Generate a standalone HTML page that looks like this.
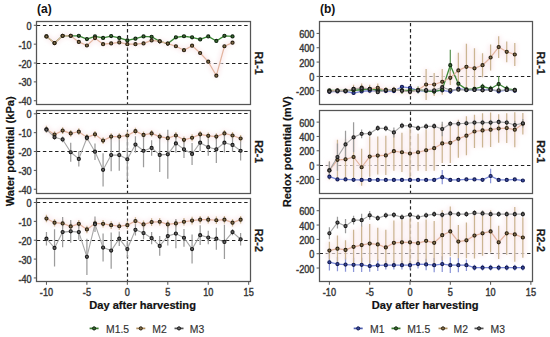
<!DOCTYPE html><html><head><meta charset="utf-8"><style>html,body{margin:0;padding:0;background:#fff;}svg{display:block;}</style></head><body>
<svg width="550" height="337" viewBox="0 0 550 337" font-family='"Liberation Sans", sans-serif'>
<rect width="550" height="337" fill="#ffffff"/>
<defs>
<filter id="blur" x="-20%" y="-20%" width="140%" height="140%"><feGaussianBlur stdDeviation="2.2"/></filter>
<clipPath id="ca0"><rect x="36.8" y="21.6" width="213.5" height="83"/></clipPath>
<clipPath id="cb0"><rect x="319.6" y="21.6" width="212.7" height="83"/></clipPath>
<clipPath id="ca1"><rect x="36.8" y="110.2" width="213.5" height="83"/></clipPath>
<clipPath id="cb1"><rect x="319.6" y="110.2" width="212.7" height="83"/></clipPath>
<clipPath id="ca2"><rect x="36.8" y="198.8" width="213.5" height="83"/></clipPath>
<clipPath id="cb2"><rect x="319.6" y="198.8" width="212.7" height="83"/></clipPath>
</defs>
<text x="37" y="12.8" font-size="12" font-weight="bold" fill="#111">(a)</text>
<text x="320" y="12.8" font-size="12" font-weight="bold" fill="#111">(b)</text>
<line x1="36.8" y1="25.5" x2="250.3" y2="25.5" stroke="#222222" stroke-width="1.2" stroke-dasharray="3.4,2.7"/>
<line x1="36.8" y1="63.5" x2="250.3" y2="63.5" stroke="#222222" stroke-width="1.2" stroke-dasharray="3.4,2.7"/>
<line x1="127.5" y1="21.6" x2="127.5" y2="104.6" stroke="#222222" stroke-width="1.2" stroke-dasharray="3.4,2.7" stroke-dashoffset="-1.3"/>
<g clip-path="url(#ca0)">
<g filter="url(#blur)">
<polyline points="46.45,36.43 54.54,43.03 62.63,35.86 70.72,35.86 78.81,41.9 86.9,45.48 94.99,38.12 103.08,44.16 111.17,43.41 119.26,42.46 127.35,44.16 135.44,44.16 143.53,43.41 151.62,40.39 159.71,41.33 167.8,43.59 175.89,46.23 183.98,50.2 192.07,45.67 200.16,53.02 208.25,61.7 216.34,75.66 224.43,46.23 232.52,42.65" fill="none" stroke="#fbedef" stroke-width="5" stroke-linejoin="round" stroke-linecap="round"/>
</g>
<polyline points="46.45,36.43 54.54,43.03 62.63,35.86 70.72,35.86 78.81,35.86 86.9,39.07 94.99,36.43 103.08,37.94 111.17,36.05 119.26,37.94 127.35,40.39 135.44,38.69 143.53,36.43 151.62,36.8 159.71,41.33 167.8,43.59 175.89,37.37 183.98,36.24 192.07,37.37 200.16,39.45 208.25,36.43 216.34,40.95 224.43,35.86 232.52,36.43" fill="none" stroke="#3f8a38" stroke-width="1.3" stroke-linejoin="round"/>
<polyline points="46.45,36.43 54.54,43.03 62.63,35.86 70.72,35.86 78.81,41.9 86.9,45.48 94.99,38.12 103.08,44.16 111.17,43.41 119.26,42.46 127.35,44.16 135.44,44.16 143.53,43.41 151.62,40.39 159.71,41.33 167.8,43.59 175.89,46.23 183.98,50.2 192.07,45.67 200.16,53.02 208.25,61.7 216.34,75.66 224.43,46.23 232.52,42.65" fill="none" stroke="#e2b49e" stroke-width="1.2" stroke-linejoin="round"/>
<circle cx="46.45" cy="36.43" r="1.55" fill="#3a6e30" stroke="#102410" stroke-width="1.1"/>
<circle cx="54.54" cy="43.03" r="1.55" fill="#3a6e30" stroke="#102410" stroke-width="1.1"/>
<circle cx="62.63" cy="35.86" r="1.55" fill="#3a6e30" stroke="#102410" stroke-width="1.1"/>
<circle cx="70.72" cy="35.86" r="1.55" fill="#3a6e30" stroke="#102410" stroke-width="1.1"/>
<circle cx="78.81" cy="35.86" r="1.55" fill="#3a6e30" stroke="#102410" stroke-width="1.1"/>
<circle cx="86.9" cy="39.07" r="1.55" fill="#3a6e30" stroke="#102410" stroke-width="1.1"/>
<circle cx="94.99" cy="36.43" r="1.55" fill="#3a6e30" stroke="#102410" stroke-width="1.1"/>
<circle cx="103.08" cy="37.94" r="1.55" fill="#3a6e30" stroke="#102410" stroke-width="1.1"/>
<circle cx="111.17" cy="36.05" r="1.55" fill="#3a6e30" stroke="#102410" stroke-width="1.1"/>
<circle cx="119.26" cy="37.94" r="1.55" fill="#3a6e30" stroke="#102410" stroke-width="1.1"/>
<circle cx="127.35" cy="40.39" r="1.55" fill="#3a6e30" stroke="#102410" stroke-width="1.1"/>
<circle cx="135.44" cy="38.69" r="1.55" fill="#3a6e30" stroke="#102410" stroke-width="1.1"/>
<circle cx="143.53" cy="36.43" r="1.55" fill="#3a6e30" stroke="#102410" stroke-width="1.1"/>
<circle cx="151.62" cy="36.8" r="1.55" fill="#3a6e30" stroke="#102410" stroke-width="1.1"/>
<circle cx="159.71" cy="41.33" r="1.55" fill="#3a6e30" stroke="#102410" stroke-width="1.1"/>
<circle cx="167.8" cy="43.59" r="1.55" fill="#3a6e30" stroke="#102410" stroke-width="1.1"/>
<circle cx="175.89" cy="37.37" r="1.55" fill="#3a6e30" stroke="#102410" stroke-width="1.1"/>
<circle cx="183.98" cy="36.24" r="1.55" fill="#3a6e30" stroke="#102410" stroke-width="1.1"/>
<circle cx="192.07" cy="37.37" r="1.55" fill="#3a6e30" stroke="#102410" stroke-width="1.1"/>
<circle cx="200.16" cy="39.45" r="1.55" fill="#3a6e30" stroke="#102410" stroke-width="1.1"/>
<circle cx="208.25" cy="36.43" r="1.55" fill="#3a6e30" stroke="#102410" stroke-width="1.1"/>
<circle cx="216.34" cy="40.95" r="1.55" fill="#3a6e30" stroke="#102410" stroke-width="1.1"/>
<circle cx="224.43" cy="35.86" r="1.55" fill="#3a6e30" stroke="#102410" stroke-width="1.1"/>
<circle cx="232.52" cy="36.43" r="1.55" fill="#3a6e30" stroke="#102410" stroke-width="1.1"/>
<circle cx="46.45" cy="36.43" r="1.55" fill="#85704a" stroke="#2a2012" stroke-width="1.1"/>
<circle cx="54.54" cy="43.03" r="1.55" fill="#85704a" stroke="#2a2012" stroke-width="1.1"/>
<circle cx="62.63" cy="35.86" r="1.55" fill="#85704a" stroke="#2a2012" stroke-width="1.1"/>
<circle cx="70.72" cy="35.86" r="1.55" fill="#85704a" stroke="#2a2012" stroke-width="1.1"/>
<circle cx="78.81" cy="41.9" r="1.55" fill="#85704a" stroke="#2a2012" stroke-width="1.1"/>
<circle cx="86.9" cy="45.48" r="1.55" fill="#85704a" stroke="#2a2012" stroke-width="1.1"/>
<circle cx="94.99" cy="38.12" r="1.55" fill="#85704a" stroke="#2a2012" stroke-width="1.1"/>
<circle cx="103.08" cy="44.16" r="1.55" fill="#85704a" stroke="#2a2012" stroke-width="1.1"/>
<circle cx="111.17" cy="43.41" r="1.55" fill="#85704a" stroke="#2a2012" stroke-width="1.1"/>
<circle cx="119.26" cy="42.46" r="1.55" fill="#85704a" stroke="#2a2012" stroke-width="1.1"/>
<circle cx="127.35" cy="44.16" r="1.55" fill="#85704a" stroke="#2a2012" stroke-width="1.1"/>
<circle cx="135.44" cy="44.16" r="1.55" fill="#85704a" stroke="#2a2012" stroke-width="1.1"/>
<circle cx="143.53" cy="43.41" r="1.55" fill="#85704a" stroke="#2a2012" stroke-width="1.1"/>
<circle cx="151.62" cy="40.39" r="1.55" fill="#85704a" stroke="#2a2012" stroke-width="1.1"/>
<circle cx="159.71" cy="41.33" r="1.55" fill="#85704a" stroke="#2a2012" stroke-width="1.1"/>
<circle cx="167.8" cy="43.59" r="1.55" fill="#85704a" stroke="#2a2012" stroke-width="1.1"/>
<circle cx="175.89" cy="46.23" r="1.55" fill="#85704a" stroke="#2a2012" stroke-width="1.1"/>
<circle cx="183.98" cy="50.2" r="1.55" fill="#85704a" stroke="#2a2012" stroke-width="1.1"/>
<circle cx="192.07" cy="45.67" r="1.55" fill="#85704a" stroke="#2a2012" stroke-width="1.1"/>
<circle cx="200.16" cy="53.02" r="1.55" fill="#85704a" stroke="#2a2012" stroke-width="1.1"/>
<circle cx="208.25" cy="61.7" r="1.55" fill="#85704a" stroke="#2a2012" stroke-width="1.1"/>
<circle cx="216.34" cy="75.66" r="1.55" fill="#85704a" stroke="#2a2012" stroke-width="1.1"/>
<circle cx="224.43" cy="46.23" r="1.55" fill="#85704a" stroke="#2a2012" stroke-width="1.1"/>
<circle cx="232.52" cy="42.65" r="1.55" fill="#85704a" stroke="#2a2012" stroke-width="1.1"/>
</g>
<rect x="36.5" y="21.5" width="214" height="83" fill="none" stroke="#555555" stroke-width="1.25"/>
<line x1="33.8" y1="25.3" x2="36.8" y2="25.3" stroke="#555555" stroke-width="1"/>
<text transform="translate(31.6,29.9) scale(0.88,1)" text-anchor="end" font-size="10.4" fill="#383838" stroke="#383838" stroke-width="0.42">0</text>
<line x1="33.8" y1="44.16" x2="36.8" y2="44.16" stroke="#555555" stroke-width="1"/>
<text transform="translate(31.6,48.76) scale(0.88,1)" text-anchor="end" font-size="10.4" fill="#383838" stroke="#383838" stroke-width="0.42">-10</text>
<line x1="33.8" y1="63.02" x2="36.8" y2="63.02" stroke="#555555" stroke-width="1"/>
<text transform="translate(31.6,67.62) scale(0.88,1)" text-anchor="end" font-size="10.4" fill="#383838" stroke="#383838" stroke-width="0.42">-20</text>
<line x1="33.8" y1="81.88" x2="36.8" y2="81.88" stroke="#555555" stroke-width="1"/>
<text transform="translate(31.6,86.48) scale(0.88,1)" text-anchor="end" font-size="10.4" fill="#383838" stroke="#383838" stroke-width="0.42">-30</text>
<line x1="33.8" y1="100.74" x2="36.8" y2="100.74" stroke="#555555" stroke-width="1"/>
<text transform="translate(31.6,105.34) scale(0.88,1)" text-anchor="end" font-size="10.4" fill="#383838" stroke="#383838" stroke-width="0.42">-40</text>
<text transform="translate(255.1,63.1) rotate(90)" text-anchor="middle" font-size="10.6" font-weight="bold" fill="#1a1a1a" stroke="#1a1a1a" stroke-width="0.25">R1-1</text>
<line x1="36.8" y1="113.5" x2="250.3" y2="113.5" stroke="#222222" stroke-width="1.2" stroke-dasharray="3.4,2.7"/>
<line x1="36.8" y1="151.5" x2="250.3" y2="151.5" stroke="#222222" stroke-width="1.2" stroke-dasharray="3.4,2.7"/>
<line x1="127.5" y1="110.2" x2="127.5" y2="193.2" stroke="#222222" stroke-width="1.2" stroke-dasharray="3.4,2.7" stroke-dashoffset="-1.3"/>
<g clip-path="url(#ca1)">
<g filter="url(#blur)">
<polyline points="46.45,129.27 54.54,134.55 62.63,130.59 70.72,133.41 78.81,131.72 86.9,137.38 94.99,134.36 103.08,140.58 111.17,136.62 119.26,136.62 127.35,135.49 135.44,131.15 143.53,134.92 151.62,133.41 159.71,136.62 167.8,138.13 175.89,135.49 183.98,139.83 192.07,137.75 200.16,134.36 208.25,135.87 216.34,136.62 224.43,133.41 232.52,135.49 240.61,138.51" fill="none" stroke="#fbedef" stroke-width="5" stroke-linejoin="round" stroke-linecap="round"/>
<line x1="46.45" y1="125.87" x2="46.45" y2="132.66" stroke="#fbedef" stroke-width="5" stroke-linecap="butt"/>
<line x1="54.54" y1="131.15" x2="54.54" y2="137.94" stroke="#fbedef" stroke-width="5" stroke-linecap="butt"/>
<line x1="62.63" y1="127.19" x2="62.63" y2="133.98" stroke="#fbedef" stroke-width="5" stroke-linecap="butt"/>
<line x1="70.72" y1="130.02" x2="70.72" y2="136.81" stroke="#fbedef" stroke-width="5" stroke-linecap="butt"/>
<line x1="78.81" y1="128.32" x2="78.81" y2="135.11" stroke="#fbedef" stroke-width="5" stroke-linecap="butt"/>
<line x1="86.9" y1="133.98" x2="86.9" y2="140.77" stroke="#fbedef" stroke-width="5" stroke-linecap="butt"/>
<line x1="94.99" y1="130.96" x2="94.99" y2="137.75" stroke="#fbedef" stroke-width="5" stroke-linecap="butt"/>
<line x1="103.08" y1="137.19" x2="103.08" y2="143.98" stroke="#fbedef" stroke-width="5" stroke-linecap="butt"/>
<line x1="111.17" y1="133.23" x2="111.17" y2="140.02" stroke="#fbedef" stroke-width="5" stroke-linecap="butt"/>
<line x1="119.26" y1="133.23" x2="119.26" y2="140.02" stroke="#fbedef" stroke-width="5" stroke-linecap="butt"/>
<line x1="127.35" y1="132.09" x2="127.35" y2="138.88" stroke="#fbedef" stroke-width="5" stroke-linecap="butt"/>
<line x1="135.44" y1="127.76" x2="135.44" y2="134.55" stroke="#fbedef" stroke-width="5" stroke-linecap="butt"/>
<line x1="143.53" y1="131.53" x2="143.53" y2="138.32" stroke="#fbedef" stroke-width="5" stroke-linecap="butt"/>
<line x1="151.62" y1="130.02" x2="151.62" y2="136.81" stroke="#fbedef" stroke-width="5" stroke-linecap="butt"/>
<line x1="159.71" y1="133.23" x2="159.71" y2="140.02" stroke="#fbedef" stroke-width="5" stroke-linecap="butt"/>
<line x1="167.8" y1="134.73" x2="167.8" y2="141.52" stroke="#fbedef" stroke-width="5" stroke-linecap="butt"/>
<line x1="175.89" y1="132.09" x2="175.89" y2="138.88" stroke="#fbedef" stroke-width="5" stroke-linecap="butt"/>
<line x1="183.98" y1="136.43" x2="183.98" y2="143.22" stroke="#fbedef" stroke-width="5" stroke-linecap="butt"/>
<line x1="192.07" y1="134.36" x2="192.07" y2="141.15" stroke="#fbedef" stroke-width="5" stroke-linecap="butt"/>
<line x1="200.16" y1="130.96" x2="200.16" y2="137.75" stroke="#fbedef" stroke-width="5" stroke-linecap="butt"/>
<line x1="208.25" y1="132.47" x2="208.25" y2="139.26" stroke="#fbedef" stroke-width="5" stroke-linecap="butt"/>
<line x1="216.34" y1="133.23" x2="216.34" y2="140.02" stroke="#fbedef" stroke-width="5" stroke-linecap="butt"/>
<line x1="224.43" y1="130.02" x2="224.43" y2="136.81" stroke="#fbedef" stroke-width="5" stroke-linecap="butt"/>
<line x1="232.52" y1="132.09" x2="232.52" y2="138.88" stroke="#fbedef" stroke-width="5" stroke-linecap="butt"/>
<line x1="240.61" y1="135.11" x2="240.61" y2="141.9" stroke="#fbedef" stroke-width="5" stroke-linecap="butt"/>
</g>
<polyline points="46.45,129.27 54.54,134.55 62.63,130.59 70.72,133.41 78.81,131.72 86.9,137.38 94.99,134.36 103.08,140.58 111.17,136.62 119.26,136.62 127.35,135.49 135.44,131.15 143.53,134.92 151.62,133.41 159.71,136.62 167.8,138.13 175.89,135.49 183.98,139.83 192.07,137.75 200.16,134.36 208.25,135.87 216.34,136.62 224.43,133.41 232.52,135.49 240.61,138.51" fill="none" stroke="#e2b49e" stroke-width="1.2" stroke-linejoin="round"/>
<polyline points="46.45,129.64 54.54,137.19 62.63,139.45 70.72,152.27 78.81,158.88 86.9,137.94 94.99,151.71 103.08,169.81 111.17,155.1 119.26,155.1 127.35,159.25 135.44,144.54 143.53,150.77 151.62,147.94 159.71,154.91 167.8,154.35 175.89,143.41 183.98,149.26 192.07,153.97 200.16,142.66 208.25,147.18 216.34,149.26 224.43,142.66 232.52,144.92 240.61,150.77" fill="none" stroke="#a6a6a6" stroke-width="1.1" stroke-linejoin="round"/>
<line x1="46.45" y1="125.87" x2="46.45" y2="132.66" stroke="#cbb592" stroke-width="1.25"/>
<line x1="54.54" y1="131.15" x2="54.54" y2="137.94" stroke="#cbb592" stroke-width="1.25"/>
<line x1="62.63" y1="127.19" x2="62.63" y2="133.98" stroke="#cbb592" stroke-width="1.25"/>
<line x1="70.72" y1="130.02" x2="70.72" y2="136.81" stroke="#cbb592" stroke-width="1.25"/>
<line x1="78.81" y1="128.32" x2="78.81" y2="135.11" stroke="#cbb592" stroke-width="1.25"/>
<line x1="86.9" y1="133.98" x2="86.9" y2="140.77" stroke="#cbb592" stroke-width="1.25"/>
<line x1="94.99" y1="130.96" x2="94.99" y2="137.75" stroke="#cbb592" stroke-width="1.25"/>
<line x1="103.08" y1="137.19" x2="103.08" y2="143.98" stroke="#cbb592" stroke-width="1.25"/>
<line x1="111.17" y1="133.23" x2="111.17" y2="140.02" stroke="#cbb592" stroke-width="1.25"/>
<line x1="119.26" y1="133.23" x2="119.26" y2="140.02" stroke="#cbb592" stroke-width="1.25"/>
<line x1="127.35" y1="132.09" x2="127.35" y2="138.88" stroke="#cbb592" stroke-width="1.25"/>
<line x1="135.44" y1="127.76" x2="135.44" y2="134.55" stroke="#cbb592" stroke-width="1.25"/>
<line x1="143.53" y1="131.53" x2="143.53" y2="138.32" stroke="#cbb592" stroke-width="1.25"/>
<line x1="151.62" y1="130.02" x2="151.62" y2="136.81" stroke="#cbb592" stroke-width="1.25"/>
<line x1="159.71" y1="133.23" x2="159.71" y2="140.02" stroke="#cbb592" stroke-width="1.25"/>
<line x1="167.8" y1="134.73" x2="167.8" y2="141.52" stroke="#cbb592" stroke-width="1.25"/>
<line x1="175.89" y1="132.09" x2="175.89" y2="138.88" stroke="#cbb592" stroke-width="1.25"/>
<line x1="183.98" y1="136.43" x2="183.98" y2="143.22" stroke="#cbb592" stroke-width="1.25"/>
<line x1="192.07" y1="134.36" x2="192.07" y2="141.15" stroke="#cbb592" stroke-width="1.25"/>
<line x1="200.16" y1="130.96" x2="200.16" y2="137.75" stroke="#cbb592" stroke-width="1.25"/>
<line x1="208.25" y1="132.47" x2="208.25" y2="139.26" stroke="#cbb592" stroke-width="1.25"/>
<line x1="216.34" y1="133.23" x2="216.34" y2="140.02" stroke="#cbb592" stroke-width="1.25"/>
<line x1="224.43" y1="130.02" x2="224.43" y2="136.81" stroke="#cbb592" stroke-width="1.25"/>
<line x1="232.52" y1="132.09" x2="232.52" y2="138.88" stroke="#cbb592" stroke-width="1.25"/>
<line x1="240.61" y1="135.11" x2="240.61" y2="141.9" stroke="#cbb592" stroke-width="1.25"/>
<line x1="46.45" y1="126.81" x2="46.45" y2="132.47" stroke="#9c9c9c" stroke-width="1.25"/>
<line x1="54.54" y1="134.36" x2="54.54" y2="140.02" stroke="#9c9c9c" stroke-width="1.25"/>
<line x1="62.63" y1="136.62" x2="62.63" y2="142.28" stroke="#9c9c9c" stroke-width="1.25"/>
<line x1="70.72" y1="142.84" x2="70.72" y2="161.7" stroke="#9c9c9c" stroke-width="1.25"/>
<line x1="78.81" y1="151.33" x2="78.81" y2="166.42" stroke="#9c9c9c" stroke-width="1.25"/>
<line x1="86.9" y1="135.11" x2="86.9" y2="140.77" stroke="#9c9c9c" stroke-width="1.25"/>
<line x1="94.99" y1="143.41" x2="94.99" y2="160.01" stroke="#9c9c9c" stroke-width="1.25"/>
<line x1="103.08" y1="153.22" x2="103.08" y2="186.41" stroke="#9c9c9c" stroke-width="1.25"/>
<line x1="111.17" y1="139.07" x2="111.17" y2="171.13" stroke="#9c9c9c" stroke-width="1.25"/>
<line x1="119.26" y1="139.45" x2="119.26" y2="170.76" stroke="#9c9c9c" stroke-width="1.25"/>
<line x1="127.35" y1="138.51" x2="127.35" y2="180" stroke="#9c9c9c" stroke-width="1.25"/>
<line x1="135.44" y1="136.24" x2="135.44" y2="152.84" stroke="#9c9c9c" stroke-width="1.25"/>
<line x1="143.53" y1="134.17" x2="143.53" y2="167.36" stroke="#9c9c9c" stroke-width="1.25"/>
<line x1="151.62" y1="140.2" x2="151.62" y2="155.67" stroke="#9c9c9c" stroke-width="1.25"/>
<line x1="159.71" y1="137.94" x2="159.71" y2="171.89" stroke="#9c9c9c" stroke-width="1.25"/>
<line x1="167.8" y1="129.83" x2="167.8" y2="178.87" stroke="#9c9c9c" stroke-width="1.25"/>
<line x1="175.89" y1="133.98" x2="175.89" y2="152.84" stroke="#9c9c9c" stroke-width="1.25"/>
<line x1="183.98" y1="140.39" x2="183.98" y2="158.12" stroke="#9c9c9c" stroke-width="1.25"/>
<line x1="192.07" y1="143.03" x2="192.07" y2="164.91" stroke="#9c9c9c" stroke-width="1.25"/>
<line x1="200.16" y1="134.36" x2="200.16" y2="150.95" stroke="#9c9c9c" stroke-width="1.25"/>
<line x1="208.25" y1="138.51" x2="208.25" y2="155.86" stroke="#9c9c9c" stroke-width="1.25"/>
<line x1="216.34" y1="135.49" x2="216.34" y2="163.02" stroke="#9c9c9c" stroke-width="1.25"/>
<line x1="224.43" y1="132.85" x2="224.43" y2="152.46" stroke="#9c9c9c" stroke-width="1.25"/>
<line x1="232.52" y1="137.94" x2="232.52" y2="151.9" stroke="#9c9c9c" stroke-width="1.25"/>
<line x1="240.61" y1="141.15" x2="240.61" y2="160.38" stroke="#9c9c9c" stroke-width="1.25"/>
<circle cx="46.45" cy="129.27" r="1.55" fill="#85704a" stroke="#2a2012" stroke-width="1.1"/>
<circle cx="54.54" cy="134.55" r="1.55" fill="#85704a" stroke="#2a2012" stroke-width="1.1"/>
<circle cx="62.63" cy="130.59" r="1.55" fill="#85704a" stroke="#2a2012" stroke-width="1.1"/>
<circle cx="70.72" cy="133.41" r="1.55" fill="#85704a" stroke="#2a2012" stroke-width="1.1"/>
<circle cx="78.81" cy="131.72" r="1.55" fill="#85704a" stroke="#2a2012" stroke-width="1.1"/>
<circle cx="86.9" cy="137.38" r="1.55" fill="#85704a" stroke="#2a2012" stroke-width="1.1"/>
<circle cx="94.99" cy="134.36" r="1.55" fill="#85704a" stroke="#2a2012" stroke-width="1.1"/>
<circle cx="103.08" cy="140.58" r="1.55" fill="#85704a" stroke="#2a2012" stroke-width="1.1"/>
<circle cx="111.17" cy="136.62" r="1.55" fill="#85704a" stroke="#2a2012" stroke-width="1.1"/>
<circle cx="119.26" cy="136.62" r="1.55" fill="#85704a" stroke="#2a2012" stroke-width="1.1"/>
<circle cx="127.35" cy="135.49" r="1.55" fill="#85704a" stroke="#2a2012" stroke-width="1.1"/>
<circle cx="135.44" cy="131.15" r="1.55" fill="#85704a" stroke="#2a2012" stroke-width="1.1"/>
<circle cx="143.53" cy="134.92" r="1.55" fill="#85704a" stroke="#2a2012" stroke-width="1.1"/>
<circle cx="151.62" cy="133.41" r="1.55" fill="#85704a" stroke="#2a2012" stroke-width="1.1"/>
<circle cx="159.71" cy="136.62" r="1.55" fill="#85704a" stroke="#2a2012" stroke-width="1.1"/>
<circle cx="167.8" cy="138.13" r="1.55" fill="#85704a" stroke="#2a2012" stroke-width="1.1"/>
<circle cx="175.89" cy="135.49" r="1.55" fill="#85704a" stroke="#2a2012" stroke-width="1.1"/>
<circle cx="183.98" cy="139.83" r="1.55" fill="#85704a" stroke="#2a2012" stroke-width="1.1"/>
<circle cx="192.07" cy="137.75" r="1.55" fill="#85704a" stroke="#2a2012" stroke-width="1.1"/>
<circle cx="200.16" cy="134.36" r="1.55" fill="#85704a" stroke="#2a2012" stroke-width="1.1"/>
<circle cx="208.25" cy="135.87" r="1.55" fill="#85704a" stroke="#2a2012" stroke-width="1.1"/>
<circle cx="216.34" cy="136.62" r="1.55" fill="#85704a" stroke="#2a2012" stroke-width="1.1"/>
<circle cx="224.43" cy="133.41" r="1.55" fill="#85704a" stroke="#2a2012" stroke-width="1.1"/>
<circle cx="232.52" cy="135.49" r="1.55" fill="#85704a" stroke="#2a2012" stroke-width="1.1"/>
<circle cx="240.61" cy="138.51" r="1.55" fill="#85704a" stroke="#2a2012" stroke-width="1.1"/>
<circle cx="46.45" cy="129.64" r="1.55" fill="#666666" stroke="#1a1a1a" stroke-width="1.1"/>
<circle cx="54.54" cy="137.19" r="1.55" fill="#666666" stroke="#1a1a1a" stroke-width="1.1"/>
<circle cx="62.63" cy="139.45" r="1.55" fill="#666666" stroke="#1a1a1a" stroke-width="1.1"/>
<circle cx="70.72" cy="152.27" r="1.55" fill="#666666" stroke="#1a1a1a" stroke-width="1.1"/>
<circle cx="78.81" cy="158.88" r="1.55" fill="#666666" stroke="#1a1a1a" stroke-width="1.1"/>
<circle cx="86.9" cy="137.94" r="1.55" fill="#666666" stroke="#1a1a1a" stroke-width="1.1"/>
<circle cx="94.99" cy="151.71" r="1.55" fill="#666666" stroke="#1a1a1a" stroke-width="1.1"/>
<circle cx="103.08" cy="169.81" r="1.55" fill="#666666" stroke="#1a1a1a" stroke-width="1.1"/>
<circle cx="111.17" cy="155.1" r="1.55" fill="#666666" stroke="#1a1a1a" stroke-width="1.1"/>
<circle cx="119.26" cy="155.1" r="1.55" fill="#666666" stroke="#1a1a1a" stroke-width="1.1"/>
<circle cx="127.35" cy="159.25" r="1.55" fill="#666666" stroke="#1a1a1a" stroke-width="1.1"/>
<circle cx="135.44" cy="144.54" r="1.55" fill="#666666" stroke="#1a1a1a" stroke-width="1.1"/>
<circle cx="143.53" cy="150.77" r="1.55" fill="#666666" stroke="#1a1a1a" stroke-width="1.1"/>
<circle cx="151.62" cy="147.94" r="1.55" fill="#666666" stroke="#1a1a1a" stroke-width="1.1"/>
<circle cx="159.71" cy="154.91" r="1.55" fill="#666666" stroke="#1a1a1a" stroke-width="1.1"/>
<circle cx="167.8" cy="154.35" r="1.55" fill="#666666" stroke="#1a1a1a" stroke-width="1.1"/>
<circle cx="175.89" cy="143.41" r="1.55" fill="#666666" stroke="#1a1a1a" stroke-width="1.1"/>
<circle cx="183.98" cy="149.26" r="1.55" fill="#666666" stroke="#1a1a1a" stroke-width="1.1"/>
<circle cx="192.07" cy="153.97" r="1.55" fill="#666666" stroke="#1a1a1a" stroke-width="1.1"/>
<circle cx="200.16" cy="142.66" r="1.55" fill="#666666" stroke="#1a1a1a" stroke-width="1.1"/>
<circle cx="208.25" cy="147.18" r="1.55" fill="#666666" stroke="#1a1a1a" stroke-width="1.1"/>
<circle cx="216.34" cy="149.26" r="1.55" fill="#666666" stroke="#1a1a1a" stroke-width="1.1"/>
<circle cx="224.43" cy="142.66" r="1.55" fill="#666666" stroke="#1a1a1a" stroke-width="1.1"/>
<circle cx="232.52" cy="144.92" r="1.55" fill="#666666" stroke="#1a1a1a" stroke-width="1.1"/>
<circle cx="240.61" cy="150.77" r="1.55" fill="#666666" stroke="#1a1a1a" stroke-width="1.1"/>
</g>
<rect x="36.5" y="110.5" width="214" height="83" fill="none" stroke="#555555" stroke-width="1.25"/>
<line x1="33.8" y1="113.8" x2="36.8" y2="113.8" stroke="#555555" stroke-width="1"/>
<text transform="translate(31.6,118.4) scale(0.88,1)" text-anchor="end" font-size="10.4" fill="#383838" stroke="#383838" stroke-width="0.42">0</text>
<line x1="33.8" y1="132.66" x2="36.8" y2="132.66" stroke="#555555" stroke-width="1"/>
<text transform="translate(31.6,137.26) scale(0.88,1)" text-anchor="end" font-size="10.4" fill="#383838" stroke="#383838" stroke-width="0.42">-10</text>
<line x1="33.8" y1="151.52" x2="36.8" y2="151.52" stroke="#555555" stroke-width="1"/>
<text transform="translate(31.6,156.12) scale(0.88,1)" text-anchor="end" font-size="10.4" fill="#383838" stroke="#383838" stroke-width="0.42">-20</text>
<line x1="33.8" y1="170.38" x2="36.8" y2="170.38" stroke="#555555" stroke-width="1"/>
<text transform="translate(31.6,174.98) scale(0.88,1)" text-anchor="end" font-size="10.4" fill="#383838" stroke="#383838" stroke-width="0.42">-30</text>
<line x1="33.8" y1="189.24" x2="36.8" y2="189.24" stroke="#555555" stroke-width="1"/>
<text transform="translate(31.6,193.84) scale(0.88,1)" text-anchor="end" font-size="10.4" fill="#383838" stroke="#383838" stroke-width="0.42">-40</text>
<text transform="translate(255.1,151.7) rotate(90)" text-anchor="middle" font-size="10.6" font-weight="bold" fill="#1a1a1a" stroke="#1a1a1a" stroke-width="0.25">R2-1</text>
<line x1="36.8" y1="202.5" x2="250.3" y2="202.5" stroke="#222222" stroke-width="1.2" stroke-dasharray="3.4,2.7"/>
<line x1="36.8" y1="240.5" x2="250.3" y2="240.5" stroke="#222222" stroke-width="1.2" stroke-dasharray="3.4,2.7"/>
<line x1="127.5" y1="198.8" x2="127.5" y2="281.8" stroke="#222222" stroke-width="1.2" stroke-dasharray="3.4,2.7" stroke-dashoffset="-1.3"/>
<g clip-path="url(#ca2)">
<g filter="url(#blur)">
<polyline points="46.45,218.53 54.54,222.68 62.63,223.43 70.72,226.45 78.81,223.81 86.9,229.47 94.99,223.43 103.08,223.81 111.17,225.13 119.26,226.26 127.35,225.13 135.44,220.98 143.53,224.38 151.62,222.11 159.71,221.74 167.8,224.38 175.89,223.43 183.98,221.74 192.07,220.61 200.16,219.66 208.25,219.66 216.34,220.23 224.43,219.66 232.52,222.68 240.61,219.66" fill="none" stroke="#fbedef" stroke-width="5" stroke-linejoin="round" stroke-linecap="round"/>
<line x1="46.45" y1="214.76" x2="46.45" y2="222.3" stroke="#fbedef" stroke-width="5" stroke-linecap="butt"/>
<line x1="54.54" y1="218.91" x2="54.54" y2="226.45" stroke="#fbedef" stroke-width="5" stroke-linecap="butt"/>
<line x1="62.63" y1="219.66" x2="62.63" y2="227.21" stroke="#fbedef" stroke-width="5" stroke-linecap="butt"/>
<line x1="70.72" y1="222.68" x2="70.72" y2="230.22" stroke="#fbedef" stroke-width="5" stroke-linecap="butt"/>
<line x1="78.81" y1="220.04" x2="78.81" y2="227.58" stroke="#fbedef" stroke-width="5" stroke-linecap="butt"/>
<line x1="86.9" y1="225.7" x2="86.9" y2="233.24" stroke="#fbedef" stroke-width="5" stroke-linecap="butt"/>
<line x1="94.99" y1="219.66" x2="94.99" y2="227.21" stroke="#fbedef" stroke-width="5" stroke-linecap="butt"/>
<line x1="103.08" y1="220.04" x2="103.08" y2="227.58" stroke="#fbedef" stroke-width="5" stroke-linecap="butt"/>
<line x1="111.17" y1="221.36" x2="111.17" y2="228.9" stroke="#fbedef" stroke-width="5" stroke-linecap="butt"/>
<line x1="119.26" y1="222.49" x2="119.26" y2="230.04" stroke="#fbedef" stroke-width="5" stroke-linecap="butt"/>
<line x1="127.35" y1="221.36" x2="127.35" y2="228.9" stroke="#fbedef" stroke-width="5" stroke-linecap="butt"/>
<line x1="135.44" y1="217.21" x2="135.44" y2="224.75" stroke="#fbedef" stroke-width="5" stroke-linecap="butt"/>
<line x1="143.53" y1="220.61" x2="143.53" y2="228.15" stroke="#fbedef" stroke-width="5" stroke-linecap="butt"/>
<line x1="151.62" y1="218.34" x2="151.62" y2="225.89" stroke="#fbedef" stroke-width="5" stroke-linecap="butt"/>
<line x1="159.71" y1="217.97" x2="159.71" y2="225.51" stroke="#fbedef" stroke-width="5" stroke-linecap="butt"/>
<line x1="167.8" y1="220.61" x2="167.8" y2="228.15" stroke="#fbedef" stroke-width="5" stroke-linecap="butt"/>
<line x1="175.89" y1="219.66" x2="175.89" y2="227.21" stroke="#fbedef" stroke-width="5" stroke-linecap="butt"/>
<line x1="183.98" y1="217.97" x2="183.98" y2="225.51" stroke="#fbedef" stroke-width="5" stroke-linecap="butt"/>
<line x1="192.07" y1="216.83" x2="192.07" y2="224.38" stroke="#fbedef" stroke-width="5" stroke-linecap="butt"/>
<line x1="200.16" y1="215.89" x2="200.16" y2="223.43" stroke="#fbedef" stroke-width="5" stroke-linecap="butt"/>
<line x1="208.25" y1="215.89" x2="208.25" y2="223.43" stroke="#fbedef" stroke-width="5" stroke-linecap="butt"/>
<line x1="216.34" y1="216.46" x2="216.34" y2="224" stroke="#fbedef" stroke-width="5" stroke-linecap="butt"/>
<line x1="224.43" y1="215.89" x2="224.43" y2="223.43" stroke="#fbedef" stroke-width="5" stroke-linecap="butt"/>
<line x1="232.52" y1="218.91" x2="232.52" y2="226.45" stroke="#fbedef" stroke-width="5" stroke-linecap="butt"/>
<line x1="240.61" y1="215.89" x2="240.61" y2="223.43" stroke="#fbedef" stroke-width="5" stroke-linecap="butt"/>
</g>
<polyline points="46.45,218.53 54.54,222.68 62.63,223.43 70.72,226.45 78.81,223.81 86.9,229.47 94.99,223.43 103.08,223.81 111.17,225.13 119.26,226.26 127.35,225.13 135.44,220.98 143.53,224.38 151.62,222.11 159.71,221.74 167.8,224.38 175.89,223.43 183.98,221.74 192.07,220.61 200.16,219.66 208.25,219.66 216.34,220.23 224.43,219.66 232.52,222.68 240.61,219.66" fill="none" stroke="#e2b49e" stroke-width="1.2" stroke-linejoin="round"/>
<polyline points="46.45,238.71 54.54,247.95 62.63,232.11 70.72,231.36 78.81,232.11 86.9,256.82 94.99,224.19 103.08,247.58 111.17,250.59 119.26,238.71 127.35,249.08 135.44,229.85 143.53,233.05 151.62,238.15 159.71,245.88 167.8,236.07 175.89,233.62 183.98,237.77 192.07,249.08 200.16,235.13 208.25,237.58 216.34,238.71 224.43,241.92 232.52,232.11 240.61,239.28" fill="none" stroke="#a6a6a6" stroke-width="1.1" stroke-linejoin="round"/>
<line x1="46.45" y1="214.76" x2="46.45" y2="222.3" stroke="#cbb592" stroke-width="1.25"/>
<line x1="54.54" y1="218.91" x2="54.54" y2="226.45" stroke="#cbb592" stroke-width="1.25"/>
<line x1="62.63" y1="219.66" x2="62.63" y2="227.21" stroke="#cbb592" stroke-width="1.25"/>
<line x1="70.72" y1="222.68" x2="70.72" y2="230.22" stroke="#cbb592" stroke-width="1.25"/>
<line x1="78.81" y1="220.04" x2="78.81" y2="227.58" stroke="#cbb592" stroke-width="1.25"/>
<line x1="86.9" y1="225.7" x2="86.9" y2="233.24" stroke="#cbb592" stroke-width="1.25"/>
<line x1="94.99" y1="219.66" x2="94.99" y2="227.21" stroke="#cbb592" stroke-width="1.25"/>
<line x1="103.08" y1="220.04" x2="103.08" y2="227.58" stroke="#cbb592" stroke-width="1.25"/>
<line x1="111.17" y1="221.36" x2="111.17" y2="228.9" stroke="#cbb592" stroke-width="1.25"/>
<line x1="119.26" y1="222.49" x2="119.26" y2="230.04" stroke="#cbb592" stroke-width="1.25"/>
<line x1="127.35" y1="221.36" x2="127.35" y2="228.9" stroke="#cbb592" stroke-width="1.25"/>
<line x1="135.44" y1="217.21" x2="135.44" y2="224.75" stroke="#cbb592" stroke-width="1.25"/>
<line x1="143.53" y1="220.61" x2="143.53" y2="228.15" stroke="#cbb592" stroke-width="1.25"/>
<line x1="151.62" y1="218.34" x2="151.62" y2="225.89" stroke="#cbb592" stroke-width="1.25"/>
<line x1="159.71" y1="217.97" x2="159.71" y2="225.51" stroke="#cbb592" stroke-width="1.25"/>
<line x1="167.8" y1="220.61" x2="167.8" y2="228.15" stroke="#cbb592" stroke-width="1.25"/>
<line x1="175.89" y1="219.66" x2="175.89" y2="227.21" stroke="#cbb592" stroke-width="1.25"/>
<line x1="183.98" y1="217.97" x2="183.98" y2="225.51" stroke="#cbb592" stroke-width="1.25"/>
<line x1="192.07" y1="216.83" x2="192.07" y2="224.38" stroke="#cbb592" stroke-width="1.25"/>
<line x1="200.16" y1="215.89" x2="200.16" y2="223.43" stroke="#cbb592" stroke-width="1.25"/>
<line x1="208.25" y1="215.89" x2="208.25" y2="223.43" stroke="#cbb592" stroke-width="1.25"/>
<line x1="216.34" y1="216.46" x2="216.34" y2="224" stroke="#cbb592" stroke-width="1.25"/>
<line x1="224.43" y1="215.89" x2="224.43" y2="223.43" stroke="#cbb592" stroke-width="1.25"/>
<line x1="232.52" y1="218.91" x2="232.52" y2="226.45" stroke="#cbb592" stroke-width="1.25"/>
<line x1="240.61" y1="215.89" x2="240.61" y2="223.43" stroke="#cbb592" stroke-width="1.25"/>
<line x1="46.45" y1="231.92" x2="46.45" y2="245.5" stroke="#9c9c9c" stroke-width="1.25"/>
<line x1="54.54" y1="229.28" x2="54.54" y2="266.62" stroke="#9c9c9c" stroke-width="1.25"/>
<line x1="62.63" y1="217.02" x2="62.63" y2="247.2" stroke="#9c9c9c" stroke-width="1.25"/>
<line x1="70.72" y1="220.04" x2="70.72" y2="242.67" stroke="#9c9c9c" stroke-width="1.25"/>
<line x1="78.81" y1="224.38" x2="78.81" y2="239.84" stroke="#9c9c9c" stroke-width="1.25"/>
<line x1="86.9" y1="238.71" x2="86.9" y2="274.92" stroke="#9c9c9c" stroke-width="1.25"/>
<line x1="94.99" y1="216.46" x2="94.99" y2="231.92" stroke="#9c9c9c" stroke-width="1.25"/>
<line x1="103.08" y1="233.62" x2="103.08" y2="261.53" stroke="#9c9c9c" stroke-width="1.25"/>
<line x1="111.17" y1="232.49" x2="111.17" y2="268.7" stroke="#9c9c9c" stroke-width="1.25"/>
<line x1="119.26" y1="231.54" x2="119.26" y2="245.88" stroke="#9c9c9c" stroke-width="1.25"/>
<line x1="127.35" y1="240.79" x2="127.35" y2="257.38" stroke="#9c9c9c" stroke-width="1.25"/>
<line x1="135.44" y1="224.19" x2="135.44" y2="235.5" stroke="#9c9c9c" stroke-width="1.25"/>
<line x1="143.53" y1="226.83" x2="143.53" y2="239.28" stroke="#9c9c9c" stroke-width="1.25"/>
<line x1="151.62" y1="231.92" x2="151.62" y2="244.37" stroke="#9c9c9c" stroke-width="1.25"/>
<line x1="159.71" y1="236.07" x2="159.71" y2="255.69" stroke="#9c9c9c" stroke-width="1.25"/>
<line x1="167.8" y1="226.64" x2="167.8" y2="245.5" stroke="#9c9c9c" stroke-width="1.25"/>
<line x1="175.89" y1="219.1" x2="175.89" y2="248.14" stroke="#9c9c9c" stroke-width="1.25"/>
<line x1="183.98" y1="228.9" x2="183.98" y2="246.63" stroke="#9c9c9c" stroke-width="1.25"/>
<line x1="192.07" y1="234.56" x2="192.07" y2="263.61" stroke="#9c9c9c" stroke-width="1.25"/>
<line x1="200.16" y1="225.32" x2="200.16" y2="244.94" stroke="#9c9c9c" stroke-width="1.25"/>
<line x1="208.25" y1="230.79" x2="208.25" y2="244.37" stroke="#9c9c9c" stroke-width="1.25"/>
<line x1="216.34" y1="227.77" x2="216.34" y2="249.65" stroke="#9c9c9c" stroke-width="1.25"/>
<line x1="224.43" y1="224.75" x2="224.43" y2="259.08" stroke="#9c9c9c" stroke-width="1.25"/>
<line x1="232.52" y1="229.09" x2="232.52" y2="235.13" stroke="#9c9c9c" stroke-width="1.25"/>
<line x1="240.61" y1="233.05" x2="240.61" y2="245.5" stroke="#9c9c9c" stroke-width="1.25"/>
<circle cx="46.45" cy="218.53" r="1.55" fill="#85704a" stroke="#2a2012" stroke-width="1.1"/>
<circle cx="54.54" cy="222.68" r="1.55" fill="#85704a" stroke="#2a2012" stroke-width="1.1"/>
<circle cx="62.63" cy="223.43" r="1.55" fill="#85704a" stroke="#2a2012" stroke-width="1.1"/>
<circle cx="70.72" cy="226.45" r="1.55" fill="#85704a" stroke="#2a2012" stroke-width="1.1"/>
<circle cx="78.81" cy="223.81" r="1.55" fill="#85704a" stroke="#2a2012" stroke-width="1.1"/>
<circle cx="86.9" cy="229.47" r="1.55" fill="#85704a" stroke="#2a2012" stroke-width="1.1"/>
<circle cx="94.99" cy="223.43" r="1.55" fill="#85704a" stroke="#2a2012" stroke-width="1.1"/>
<circle cx="103.08" cy="223.81" r="1.55" fill="#85704a" stroke="#2a2012" stroke-width="1.1"/>
<circle cx="111.17" cy="225.13" r="1.55" fill="#85704a" stroke="#2a2012" stroke-width="1.1"/>
<circle cx="119.26" cy="226.26" r="1.55" fill="#85704a" stroke="#2a2012" stroke-width="1.1"/>
<circle cx="127.35" cy="225.13" r="1.55" fill="#85704a" stroke="#2a2012" stroke-width="1.1"/>
<circle cx="135.44" cy="220.98" r="1.55" fill="#85704a" stroke="#2a2012" stroke-width="1.1"/>
<circle cx="143.53" cy="224.38" r="1.55" fill="#85704a" stroke="#2a2012" stroke-width="1.1"/>
<circle cx="151.62" cy="222.11" r="1.55" fill="#85704a" stroke="#2a2012" stroke-width="1.1"/>
<circle cx="159.71" cy="221.74" r="1.55" fill="#85704a" stroke="#2a2012" stroke-width="1.1"/>
<circle cx="167.8" cy="224.38" r="1.55" fill="#85704a" stroke="#2a2012" stroke-width="1.1"/>
<circle cx="175.89" cy="223.43" r="1.55" fill="#85704a" stroke="#2a2012" stroke-width="1.1"/>
<circle cx="183.98" cy="221.74" r="1.55" fill="#85704a" stroke="#2a2012" stroke-width="1.1"/>
<circle cx="192.07" cy="220.61" r="1.55" fill="#85704a" stroke="#2a2012" stroke-width="1.1"/>
<circle cx="200.16" cy="219.66" r="1.55" fill="#85704a" stroke="#2a2012" stroke-width="1.1"/>
<circle cx="208.25" cy="219.66" r="1.55" fill="#85704a" stroke="#2a2012" stroke-width="1.1"/>
<circle cx="216.34" cy="220.23" r="1.55" fill="#85704a" stroke="#2a2012" stroke-width="1.1"/>
<circle cx="224.43" cy="219.66" r="1.55" fill="#85704a" stroke="#2a2012" stroke-width="1.1"/>
<circle cx="232.52" cy="222.68" r="1.55" fill="#85704a" stroke="#2a2012" stroke-width="1.1"/>
<circle cx="240.61" cy="219.66" r="1.55" fill="#85704a" stroke="#2a2012" stroke-width="1.1"/>
<circle cx="46.45" cy="238.71" r="1.55" fill="#666666" stroke="#1a1a1a" stroke-width="1.1"/>
<circle cx="54.54" cy="247.95" r="1.55" fill="#666666" stroke="#1a1a1a" stroke-width="1.1"/>
<circle cx="62.63" cy="232.11" r="1.55" fill="#666666" stroke="#1a1a1a" stroke-width="1.1"/>
<circle cx="70.72" cy="231.36" r="1.55" fill="#666666" stroke="#1a1a1a" stroke-width="1.1"/>
<circle cx="78.81" cy="232.11" r="1.55" fill="#666666" stroke="#1a1a1a" stroke-width="1.1"/>
<circle cx="86.9" cy="256.82" r="1.55" fill="#666666" stroke="#1a1a1a" stroke-width="1.1"/>
<circle cx="94.99" cy="224.19" r="1.55" fill="#666666" stroke="#1a1a1a" stroke-width="1.1"/>
<circle cx="103.08" cy="247.58" r="1.55" fill="#666666" stroke="#1a1a1a" stroke-width="1.1"/>
<circle cx="111.17" cy="250.59" r="1.55" fill="#666666" stroke="#1a1a1a" stroke-width="1.1"/>
<circle cx="119.26" cy="238.71" r="1.55" fill="#666666" stroke="#1a1a1a" stroke-width="1.1"/>
<circle cx="127.35" cy="249.08" r="1.55" fill="#666666" stroke="#1a1a1a" stroke-width="1.1"/>
<circle cx="135.44" cy="229.85" r="1.55" fill="#666666" stroke="#1a1a1a" stroke-width="1.1"/>
<circle cx="143.53" cy="233.05" r="1.55" fill="#666666" stroke="#1a1a1a" stroke-width="1.1"/>
<circle cx="151.62" cy="238.15" r="1.55" fill="#666666" stroke="#1a1a1a" stroke-width="1.1"/>
<circle cx="159.71" cy="245.88" r="1.55" fill="#666666" stroke="#1a1a1a" stroke-width="1.1"/>
<circle cx="167.8" cy="236.07" r="1.55" fill="#666666" stroke="#1a1a1a" stroke-width="1.1"/>
<circle cx="175.89" cy="233.62" r="1.55" fill="#666666" stroke="#1a1a1a" stroke-width="1.1"/>
<circle cx="183.98" cy="237.77" r="1.55" fill="#666666" stroke="#1a1a1a" stroke-width="1.1"/>
<circle cx="192.07" cy="249.08" r="1.55" fill="#666666" stroke="#1a1a1a" stroke-width="1.1"/>
<circle cx="200.16" cy="235.13" r="1.55" fill="#666666" stroke="#1a1a1a" stroke-width="1.1"/>
<circle cx="208.25" cy="237.58" r="1.55" fill="#666666" stroke="#1a1a1a" stroke-width="1.1"/>
<circle cx="216.34" cy="238.71" r="1.55" fill="#666666" stroke="#1a1a1a" stroke-width="1.1"/>
<circle cx="224.43" cy="241.92" r="1.55" fill="#666666" stroke="#1a1a1a" stroke-width="1.1"/>
<circle cx="232.52" cy="232.11" r="1.55" fill="#666666" stroke="#1a1a1a" stroke-width="1.1"/>
<circle cx="240.61" cy="239.28" r="1.55" fill="#666666" stroke="#1a1a1a" stroke-width="1.1"/>
</g>
<rect x="36.5" y="198.5" width="214" height="83" fill="none" stroke="#555555" stroke-width="1.25"/>
<line x1="33.8" y1="202.5" x2="36.8" y2="202.5" stroke="#555555" stroke-width="1"/>
<text transform="translate(31.6,207.1) scale(0.88,1)" text-anchor="end" font-size="10.4" fill="#383838" stroke="#383838" stroke-width="0.42">0</text>
<line x1="33.8" y1="221.36" x2="36.8" y2="221.36" stroke="#555555" stroke-width="1"/>
<text transform="translate(31.6,225.96) scale(0.88,1)" text-anchor="end" font-size="10.4" fill="#383838" stroke="#383838" stroke-width="0.42">-10</text>
<line x1="33.8" y1="240.22" x2="36.8" y2="240.22" stroke="#555555" stroke-width="1"/>
<text transform="translate(31.6,244.82) scale(0.88,1)" text-anchor="end" font-size="10.4" fill="#383838" stroke="#383838" stroke-width="0.42">-20</text>
<line x1="33.8" y1="259.08" x2="36.8" y2="259.08" stroke="#555555" stroke-width="1"/>
<text transform="translate(31.6,263.68) scale(0.88,1)" text-anchor="end" font-size="10.4" fill="#383838" stroke="#383838" stroke-width="0.42">-30</text>
<line x1="33.8" y1="277.94" x2="36.8" y2="277.94" stroke="#555555" stroke-width="1"/>
<text transform="translate(31.6,282.54) scale(0.88,1)" text-anchor="end" font-size="10.4" fill="#383838" stroke="#383838" stroke-width="0.42">-40</text>
<text transform="translate(255.1,240.3) rotate(90)" text-anchor="middle" font-size="10.6" font-weight="bold" fill="#1a1a1a" stroke="#1a1a1a" stroke-width="0.25">R2-2</text>
<line x1="46.45" y1="281.8" x2="46.45" y2="284.8" stroke="#555555" stroke-width="1"/>
<text transform="translate(46.45,296.4) scale(0.88,1)" text-anchor="middle" font-size="10.4" fill="#383838" stroke="#383838" stroke-width="0.42">-10</text>
<line x1="86.9" y1="281.8" x2="86.9" y2="284.8" stroke="#555555" stroke-width="1"/>
<text transform="translate(86.9,296.4) scale(0.88,1)" text-anchor="middle" font-size="10.4" fill="#383838" stroke="#383838" stroke-width="0.42">-5</text>
<line x1="127.35" y1="281.8" x2="127.35" y2="284.8" stroke="#555555" stroke-width="1"/>
<text transform="translate(127.35,296.4) scale(0.88,1)" text-anchor="middle" font-size="10.4" fill="#383838" stroke="#383838" stroke-width="0.42">0</text>
<line x1="167.8" y1="281.8" x2="167.8" y2="284.8" stroke="#555555" stroke-width="1"/>
<text transform="translate(167.8,296.4) scale(0.88,1)" text-anchor="middle" font-size="10.4" fill="#383838" stroke="#383838" stroke-width="0.42">5</text>
<line x1="208.25" y1="281.8" x2="208.25" y2="284.8" stroke="#555555" stroke-width="1"/>
<text transform="translate(208.25,296.4) scale(0.88,1)" text-anchor="middle" font-size="10.4" fill="#383838" stroke="#383838" stroke-width="0.42">10</text>
<line x1="248.7" y1="281.8" x2="248.7" y2="284.8" stroke="#555555" stroke-width="1"/>
<text transform="translate(248.7,296.4) scale(0.88,1)" text-anchor="middle" font-size="10.4" fill="#383838" stroke="#383838" stroke-width="0.42">15</text>
<line x1="319.6" y1="76.5" x2="532.3" y2="76.5" stroke="#222222" stroke-width="1.2" stroke-dasharray="3.4,2.7"/>
<line x1="410.5" y1="21.6" x2="410.5" y2="104.6" stroke="#222222" stroke-width="1.2" stroke-dasharray="3.4,2.7" stroke-dashoffset="-1.3"/>
<g clip-path="url(#cb0)">
<g filter="url(#blur)">
<polyline points="329.4,91.09 337.46,90.44 345.52,90.73 353.58,88.94 361.64,87.72 369.7,88.94 377.76,87.86 385.82,90.01 393.88,89.66 401.94,90.73 410,91.8 418.06,90.01 426.12,84.5 434.18,84.5 442.24,81.77 450.3,77.83 458.36,70.38 466.42,66.8 474.48,68.3 482.54,65.22 490.6,57.48 498.66,47.02 506.72,51.82 514.78,54.48" fill="none" stroke="#fbedef" stroke-width="5" stroke-linejoin="round" stroke-linecap="round"/>
<line x1="329.4" y1="90.01" x2="329.4" y2="92.16" stroke="#fbedef" stroke-width="5" stroke-linecap="butt"/>
<line x1="337.46" y1="89.37" x2="337.46" y2="91.52" stroke="#fbedef" stroke-width="5" stroke-linecap="butt"/>
<line x1="345.52" y1="89.66" x2="345.52" y2="91.8" stroke="#fbedef" stroke-width="5" stroke-linecap="butt"/>
<line x1="353.58" y1="84.64" x2="353.58" y2="93.24" stroke="#fbedef" stroke-width="5" stroke-linecap="butt"/>
<line x1="361.64" y1="83.42" x2="361.64" y2="92.02" stroke="#fbedef" stroke-width="5" stroke-linecap="butt"/>
<line x1="369.7" y1="84.64" x2="369.7" y2="93.24" stroke="#fbedef" stroke-width="5" stroke-linecap="butt"/>
<line x1="377.76" y1="83.57" x2="377.76" y2="92.16" stroke="#fbedef" stroke-width="5" stroke-linecap="butt"/>
<line x1="385.82" y1="87.15" x2="385.82" y2="92.88" stroke="#fbedef" stroke-width="5" stroke-linecap="butt"/>
<line x1="393.88" y1="86.79" x2="393.88" y2="92.52" stroke="#fbedef" stroke-width="5" stroke-linecap="butt"/>
<line x1="401.94" y1="87.86" x2="401.94" y2="93.6" stroke="#fbedef" stroke-width="5" stroke-linecap="butt"/>
<line x1="410" y1="88.94" x2="410" y2="94.67" stroke="#fbedef" stroke-width="5" stroke-linecap="butt"/>
<line x1="418.06" y1="87.15" x2="418.06" y2="92.88" stroke="#fbedef" stroke-width="5" stroke-linecap="butt"/>
<line x1="426.12" y1="68.95" x2="426.12" y2="100.04" stroke="#fbedef" stroke-width="5" stroke-linecap="butt"/>
<line x1="434.18" y1="72.89" x2="434.18" y2="96.1" stroke="#fbedef" stroke-width="5" stroke-linecap="butt"/>
<line x1="442.24" y1="68.88" x2="442.24" y2="94.67" stroke="#fbedef" stroke-width="5" stroke-linecap="butt"/>
<line x1="450.3" y1="70.67" x2="450.3" y2="85" stroke="#fbedef" stroke-width="5" stroke-linecap="butt"/>
<line x1="458.36" y1="52.83" x2="458.36" y2="87.94" stroke="#fbedef" stroke-width="5" stroke-linecap="butt"/>
<line x1="466.42" y1="43.87" x2="466.42" y2="89.73" stroke="#fbedef" stroke-width="5" stroke-linecap="butt"/>
<line x1="474.48" y1="48.24" x2="474.48" y2="88.37" stroke="#fbedef" stroke-width="5" stroke-linecap="butt"/>
<line x1="482.54" y1="53.26" x2="482.54" y2="77.19" stroke="#fbedef" stroke-width="5" stroke-linecap="butt"/>
<line x1="490.6" y1="44.59" x2="490.6" y2="70.38" stroke="#fbedef" stroke-width="5" stroke-linecap="butt"/>
<line x1="498.66" y1="36.13" x2="498.66" y2="57.91" stroke="#fbedef" stroke-width="5" stroke-linecap="butt"/>
<line x1="506.72" y1="41.43" x2="506.72" y2="62.21" stroke="#fbedef" stroke-width="5" stroke-linecap="butt"/>
<line x1="514.78" y1="43.01" x2="514.78" y2="65.94" stroke="#fbedef" stroke-width="5" stroke-linecap="butt"/>
</g>
<polyline points="329.4,91.8 337.46,91.45 345.52,91.45 353.58,93.02 361.64,91.45 369.7,90.73 377.76,90.73 385.82,91.09 393.88,91.09 401.94,86.79 410,87.86 418.06,90.73 426.12,90.73 434.18,91.09 442.24,90.37 450.3,91.59 458.36,88.72 466.42,90.01 474.48,89.66 482.54,90.01 490.6,89.66 498.66,91.45 506.72,90.01 514.78,90.73" fill="none" stroke="#7a88d8" stroke-width="1.3" stroke-linejoin="round"/>
<polyline points="329.4,90.37 337.46,90.52 345.52,90.52 353.58,90.23 361.64,89.73 369.7,89.15 377.76,90.01 385.82,90.01 393.88,90.01 401.94,90.37 410,90.37 418.06,90.01 426.12,90.73 434.18,91.59 442.24,89.66 450.3,65.22 458.36,83.71 466.42,89.37 474.48,88.94 482.54,86.5 490.6,88.72 498.66,83.99 506.72,88.72 514.78,89.8" fill="none" stroke="#3f8a38" stroke-width="1.3" stroke-linejoin="round"/>
<polyline points="329.4,91.09 337.46,90.44 345.52,90.73 353.58,88.94 361.64,87.72 369.7,88.94 377.76,87.86 385.82,90.01 393.88,89.66 401.94,90.73 410,91.8 418.06,90.01 426.12,84.5 434.18,84.5 442.24,81.77 450.3,77.83 458.36,70.38 466.42,66.8 474.48,68.3 482.54,65.22 490.6,57.48 498.66,47.02 506.72,51.82 514.78,54.48" fill="none" stroke="#e2b49e" stroke-width="1.2" stroke-linejoin="round"/>
<polyline points="329.4,91.45 337.46,90.73 345.52,91.09 353.58,88.94 361.64,88.22 369.7,88.94 377.76,92.16 385.82,90.37 393.88,90.01 401.94,90.73 410,91.8 418.06,90.37 426.12,90.01 434.18,90.37 442.24,87.22 450.3,90.01 458.36,89.66 466.42,90.01 474.48,90.01 482.54,90.37 490.6,90.01 498.66,90.37 506.72,90.01 514.78,90.37" fill="none" stroke="#a6a6a6" stroke-width="1.1" stroke-linejoin="round"/>
<line x1="329.4" y1="90.37" x2="329.4" y2="93.24" stroke="#8c96d8" stroke-width="1.25"/>
<line x1="337.46" y1="90.01" x2="337.46" y2="92.88" stroke="#8c96d8" stroke-width="1.25"/>
<line x1="345.52" y1="90.01" x2="345.52" y2="92.88" stroke="#8c96d8" stroke-width="1.25"/>
<line x1="353.58" y1="91.59" x2="353.58" y2="94.46" stroke="#8c96d8" stroke-width="1.25"/>
<line x1="361.64" y1="90.01" x2="361.64" y2="92.88" stroke="#8c96d8" stroke-width="1.25"/>
<line x1="369.7" y1="89.3" x2="369.7" y2="92.16" stroke="#8c96d8" stroke-width="1.25"/>
<line x1="377.76" y1="89.3" x2="377.76" y2="92.16" stroke="#8c96d8" stroke-width="1.25"/>
<line x1="385.82" y1="89.66" x2="385.82" y2="92.52" stroke="#8c96d8" stroke-width="1.25"/>
<line x1="393.88" y1="89.66" x2="393.88" y2="92.52" stroke="#8c96d8" stroke-width="1.25"/>
<line x1="401.94" y1="85.36" x2="401.94" y2="88.22" stroke="#8c96d8" stroke-width="1.25"/>
<line x1="410" y1="86.43" x2="410" y2="89.3" stroke="#8c96d8" stroke-width="1.25"/>
<line x1="418.06" y1="89.3" x2="418.06" y2="92.16" stroke="#8c96d8" stroke-width="1.25"/>
<line x1="426.12" y1="89.3" x2="426.12" y2="92.16" stroke="#8c96d8" stroke-width="1.25"/>
<line x1="434.18" y1="89.66" x2="434.18" y2="92.52" stroke="#8c96d8" stroke-width="1.25"/>
<line x1="442.24" y1="88.94" x2="442.24" y2="91.8" stroke="#8c96d8" stroke-width="1.25"/>
<line x1="450.3" y1="90.16" x2="450.3" y2="93.02" stroke="#8c96d8" stroke-width="1.25"/>
<line x1="458.36" y1="87.29" x2="458.36" y2="90.16" stroke="#8c96d8" stroke-width="1.25"/>
<line x1="466.42" y1="88.58" x2="466.42" y2="91.45" stroke="#8c96d8" stroke-width="1.25"/>
<line x1="474.48" y1="88.22" x2="474.48" y2="91.09" stroke="#8c96d8" stroke-width="1.25"/>
<line x1="482.54" y1="88.58" x2="482.54" y2="91.45" stroke="#8c96d8" stroke-width="1.25"/>
<line x1="490.6" y1="88.22" x2="490.6" y2="91.09" stroke="#8c96d8" stroke-width="1.25"/>
<line x1="498.66" y1="90.01" x2="498.66" y2="92.88" stroke="#8c96d8" stroke-width="1.25"/>
<line x1="506.72" y1="88.58" x2="506.72" y2="91.45" stroke="#8c96d8" stroke-width="1.25"/>
<line x1="514.78" y1="89.3" x2="514.78" y2="92.16" stroke="#8c96d8" stroke-width="1.25"/>
<line x1="329.4" y1="89.3" x2="329.4" y2="91.45" stroke="#5e9456" stroke-width="1.25"/>
<line x1="337.46" y1="89.44" x2="337.46" y2="91.59" stroke="#5e9456" stroke-width="1.25"/>
<line x1="345.52" y1="89.44" x2="345.52" y2="91.59" stroke="#5e9456" stroke-width="1.25"/>
<line x1="353.58" y1="89.15" x2="353.58" y2="91.3" stroke="#5e9456" stroke-width="1.25"/>
<line x1="361.64" y1="87.58" x2="361.64" y2="91.88" stroke="#5e9456" stroke-width="1.25"/>
<line x1="369.7" y1="87" x2="369.7" y2="91.3" stroke="#5e9456" stroke-width="1.25"/>
<line x1="377.76" y1="87.15" x2="377.76" y2="92.88" stroke="#5e9456" stroke-width="1.25"/>
<line x1="385.82" y1="87.15" x2="385.82" y2="92.88" stroke="#5e9456" stroke-width="1.25"/>
<line x1="393.88" y1="87.15" x2="393.88" y2="92.88" stroke="#5e9456" stroke-width="1.25"/>
<line x1="401.94" y1="86.79" x2="401.94" y2="93.95" stroke="#5e9456" stroke-width="1.25"/>
<line x1="410" y1="86.79" x2="410" y2="93.95" stroke="#5e9456" stroke-width="1.25"/>
<line x1="418.06" y1="86.43" x2="418.06" y2="93.6" stroke="#5e9456" stroke-width="1.25"/>
<line x1="426.12" y1="88.58" x2="426.12" y2="92.88" stroke="#5e9456" stroke-width="1.25"/>
<line x1="434.18" y1="88.72" x2="434.18" y2="94.46" stroke="#5e9456" stroke-width="1.25"/>
<line x1="442.24" y1="86.79" x2="442.24" y2="92.52" stroke="#5e9456" stroke-width="1.25"/>
<line x1="450.3" y1="49.67" x2="450.3" y2="80.77" stroke="#5e9456" stroke-width="1.25"/>
<line x1="458.36" y1="79.41" x2="458.36" y2="88.01" stroke="#5e9456" stroke-width="1.25"/>
<line x1="466.42" y1="86.5" x2="466.42" y2="92.23" stroke="#5e9456" stroke-width="1.25"/>
<line x1="474.48" y1="86.07" x2="474.48" y2="91.8" stroke="#5e9456" stroke-width="1.25"/>
<line x1="482.54" y1="83.64" x2="482.54" y2="89.37" stroke="#5e9456" stroke-width="1.25"/>
<line x1="490.6" y1="85.86" x2="490.6" y2="91.59" stroke="#5e9456" stroke-width="1.25"/>
<line x1="498.66" y1="76.19" x2="498.66" y2="91.8" stroke="#5e9456" stroke-width="1.25"/>
<line x1="506.72" y1="85.86" x2="506.72" y2="91.59" stroke="#5e9456" stroke-width="1.25"/>
<line x1="514.78" y1="87.65" x2="514.78" y2="91.95" stroke="#5e9456" stroke-width="1.25"/>
<line x1="329.4" y1="90.01" x2="329.4" y2="92.16" stroke="#cbb592" stroke-width="1.25"/>
<line x1="337.46" y1="89.37" x2="337.46" y2="91.52" stroke="#cbb592" stroke-width="1.25"/>
<line x1="345.52" y1="89.66" x2="345.52" y2="91.8" stroke="#cbb592" stroke-width="1.25"/>
<line x1="353.58" y1="84.64" x2="353.58" y2="93.24" stroke="#cbb592" stroke-width="1.25"/>
<line x1="361.64" y1="83.42" x2="361.64" y2="92.02" stroke="#cbb592" stroke-width="1.25"/>
<line x1="369.7" y1="84.64" x2="369.7" y2="93.24" stroke="#cbb592" stroke-width="1.25"/>
<line x1="377.76" y1="83.57" x2="377.76" y2="92.16" stroke="#cbb592" stroke-width="1.25"/>
<line x1="385.82" y1="87.15" x2="385.82" y2="92.88" stroke="#cbb592" stroke-width="1.25"/>
<line x1="393.88" y1="86.79" x2="393.88" y2="92.52" stroke="#cbb592" stroke-width="1.25"/>
<line x1="401.94" y1="87.86" x2="401.94" y2="93.6" stroke="#cbb592" stroke-width="1.25"/>
<line x1="410" y1="88.94" x2="410" y2="94.67" stroke="#cbb592" stroke-width="1.25"/>
<line x1="418.06" y1="87.15" x2="418.06" y2="92.88" stroke="#cbb592" stroke-width="1.25"/>
<line x1="426.12" y1="68.95" x2="426.12" y2="100.04" stroke="#cbb592" stroke-width="1.25"/>
<line x1="434.18" y1="72.89" x2="434.18" y2="96.1" stroke="#cbb592" stroke-width="1.25"/>
<line x1="442.24" y1="68.88" x2="442.24" y2="94.67" stroke="#cbb592" stroke-width="1.25"/>
<line x1="450.3" y1="70.67" x2="450.3" y2="85" stroke="#cbb592" stroke-width="1.25"/>
<line x1="458.36" y1="52.83" x2="458.36" y2="87.94" stroke="#cbb592" stroke-width="1.25"/>
<line x1="466.42" y1="43.87" x2="466.42" y2="89.73" stroke="#cbb592" stroke-width="1.25"/>
<line x1="474.48" y1="48.24" x2="474.48" y2="88.37" stroke="#cbb592" stroke-width="1.25"/>
<line x1="482.54" y1="53.26" x2="482.54" y2="77.19" stroke="#cbb592" stroke-width="1.25"/>
<line x1="490.6" y1="44.59" x2="490.6" y2="70.38" stroke="#cbb592" stroke-width="1.25"/>
<line x1="498.66" y1="36.13" x2="498.66" y2="57.91" stroke="#cbb592" stroke-width="1.25"/>
<line x1="506.72" y1="41.43" x2="506.72" y2="62.21" stroke="#cbb592" stroke-width="1.25"/>
<line x1="514.78" y1="43.01" x2="514.78" y2="65.94" stroke="#cbb592" stroke-width="1.25"/>
<line x1="329.4" y1="90.37" x2="329.4" y2="92.52" stroke="#9c9c9c" stroke-width="1.25"/>
<line x1="337.46" y1="89.66" x2="337.46" y2="91.8" stroke="#9c9c9c" stroke-width="1.25"/>
<line x1="345.52" y1="90.01" x2="345.52" y2="92.16" stroke="#9c9c9c" stroke-width="1.25"/>
<line x1="353.58" y1="87.86" x2="353.58" y2="90.01" stroke="#9c9c9c" stroke-width="1.25"/>
<line x1="361.64" y1="87.15" x2="361.64" y2="89.3" stroke="#9c9c9c" stroke-width="1.25"/>
<line x1="369.7" y1="87.86" x2="369.7" y2="90.01" stroke="#9c9c9c" stroke-width="1.25"/>
<line x1="377.76" y1="91.09" x2="377.76" y2="93.24" stroke="#9c9c9c" stroke-width="1.25"/>
<line x1="385.82" y1="89.3" x2="385.82" y2="91.45" stroke="#9c9c9c" stroke-width="1.25"/>
<line x1="393.88" y1="88.94" x2="393.88" y2="91.09" stroke="#9c9c9c" stroke-width="1.25"/>
<line x1="401.94" y1="89.66" x2="401.94" y2="91.8" stroke="#9c9c9c" stroke-width="1.25"/>
<line x1="410" y1="90.73" x2="410" y2="92.88" stroke="#9c9c9c" stroke-width="1.25"/>
<line x1="418.06" y1="89.3" x2="418.06" y2="91.45" stroke="#9c9c9c" stroke-width="1.25"/>
<line x1="426.12" y1="88.94" x2="426.12" y2="91.09" stroke="#9c9c9c" stroke-width="1.25"/>
<line x1="434.18" y1="89.3" x2="434.18" y2="91.45" stroke="#9c9c9c" stroke-width="1.25"/>
<line x1="442.24" y1="86.14" x2="442.24" y2="88.29" stroke="#9c9c9c" stroke-width="1.25"/>
<line x1="450.3" y1="88.94" x2="450.3" y2="91.09" stroke="#9c9c9c" stroke-width="1.25"/>
<line x1="458.36" y1="88.58" x2="458.36" y2="90.73" stroke="#9c9c9c" stroke-width="1.25"/>
<line x1="466.42" y1="88.94" x2="466.42" y2="91.09" stroke="#9c9c9c" stroke-width="1.25"/>
<line x1="474.48" y1="88.94" x2="474.48" y2="91.09" stroke="#9c9c9c" stroke-width="1.25"/>
<line x1="482.54" y1="89.3" x2="482.54" y2="91.45" stroke="#9c9c9c" stroke-width="1.25"/>
<line x1="490.6" y1="88.94" x2="490.6" y2="91.09" stroke="#9c9c9c" stroke-width="1.25"/>
<line x1="498.66" y1="89.3" x2="498.66" y2="91.45" stroke="#9c9c9c" stroke-width="1.25"/>
<line x1="506.72" y1="88.94" x2="506.72" y2="91.09" stroke="#9c9c9c" stroke-width="1.25"/>
<line x1="514.78" y1="89.3" x2="514.78" y2="91.45" stroke="#9c9c9c" stroke-width="1.25"/>
<circle cx="329.4" cy="91.8" r="1.55" fill="#3a4aa0" stroke="#121a50" stroke-width="1.1"/>
<circle cx="337.46" cy="91.45" r="1.55" fill="#3a4aa0" stroke="#121a50" stroke-width="1.1"/>
<circle cx="345.52" cy="91.45" r="1.55" fill="#3a4aa0" stroke="#121a50" stroke-width="1.1"/>
<circle cx="353.58" cy="93.02" r="1.55" fill="#3a4aa0" stroke="#121a50" stroke-width="1.1"/>
<circle cx="361.64" cy="91.45" r="1.55" fill="#3a4aa0" stroke="#121a50" stroke-width="1.1"/>
<circle cx="369.7" cy="90.73" r="1.55" fill="#3a4aa0" stroke="#121a50" stroke-width="1.1"/>
<circle cx="377.76" cy="90.73" r="1.55" fill="#3a4aa0" stroke="#121a50" stroke-width="1.1"/>
<circle cx="385.82" cy="91.09" r="1.55" fill="#3a4aa0" stroke="#121a50" stroke-width="1.1"/>
<circle cx="393.88" cy="91.09" r="1.55" fill="#3a4aa0" stroke="#121a50" stroke-width="1.1"/>
<circle cx="401.94" cy="86.79" r="1.55" fill="#3a4aa0" stroke="#121a50" stroke-width="1.1"/>
<circle cx="410" cy="87.86" r="1.55" fill="#3a4aa0" stroke="#121a50" stroke-width="1.1"/>
<circle cx="418.06" cy="90.73" r="1.55" fill="#3a4aa0" stroke="#121a50" stroke-width="1.1"/>
<circle cx="426.12" cy="90.73" r="1.55" fill="#3a4aa0" stroke="#121a50" stroke-width="1.1"/>
<circle cx="434.18" cy="91.09" r="1.55" fill="#3a4aa0" stroke="#121a50" stroke-width="1.1"/>
<circle cx="442.24" cy="90.37" r="1.55" fill="#3a4aa0" stroke="#121a50" stroke-width="1.1"/>
<circle cx="450.3" cy="91.59" r="1.55" fill="#3a4aa0" stroke="#121a50" stroke-width="1.1"/>
<circle cx="458.36" cy="88.72" r="1.55" fill="#3a4aa0" stroke="#121a50" stroke-width="1.1"/>
<circle cx="466.42" cy="90.01" r="1.55" fill="#3a4aa0" stroke="#121a50" stroke-width="1.1"/>
<circle cx="474.48" cy="89.66" r="1.55" fill="#3a4aa0" stroke="#121a50" stroke-width="1.1"/>
<circle cx="482.54" cy="90.01" r="1.55" fill="#3a4aa0" stroke="#121a50" stroke-width="1.1"/>
<circle cx="490.6" cy="89.66" r="1.55" fill="#3a4aa0" stroke="#121a50" stroke-width="1.1"/>
<circle cx="498.66" cy="91.45" r="1.55" fill="#3a4aa0" stroke="#121a50" stroke-width="1.1"/>
<circle cx="506.72" cy="90.01" r="1.55" fill="#3a4aa0" stroke="#121a50" stroke-width="1.1"/>
<circle cx="514.78" cy="90.73" r="1.55" fill="#3a4aa0" stroke="#121a50" stroke-width="1.1"/>
<circle cx="329.4" cy="90.37" r="1.55" fill="#3a6e30" stroke="#102410" stroke-width="1.1"/>
<circle cx="337.46" cy="90.52" r="1.55" fill="#3a6e30" stroke="#102410" stroke-width="1.1"/>
<circle cx="345.52" cy="90.52" r="1.55" fill="#3a6e30" stroke="#102410" stroke-width="1.1"/>
<circle cx="353.58" cy="90.23" r="1.55" fill="#3a6e30" stroke="#102410" stroke-width="1.1"/>
<circle cx="361.64" cy="89.73" r="1.55" fill="#3a6e30" stroke="#102410" stroke-width="1.1"/>
<circle cx="369.7" cy="89.15" r="1.55" fill="#3a6e30" stroke="#102410" stroke-width="1.1"/>
<circle cx="377.76" cy="90.01" r="1.55" fill="#3a6e30" stroke="#102410" stroke-width="1.1"/>
<circle cx="385.82" cy="90.01" r="1.55" fill="#3a6e30" stroke="#102410" stroke-width="1.1"/>
<circle cx="393.88" cy="90.01" r="1.55" fill="#3a6e30" stroke="#102410" stroke-width="1.1"/>
<circle cx="401.94" cy="90.37" r="1.55" fill="#3a6e30" stroke="#102410" stroke-width="1.1"/>
<circle cx="410" cy="90.37" r="1.55" fill="#3a6e30" stroke="#102410" stroke-width="1.1"/>
<circle cx="418.06" cy="90.01" r="1.55" fill="#3a6e30" stroke="#102410" stroke-width="1.1"/>
<circle cx="426.12" cy="90.73" r="1.55" fill="#3a6e30" stroke="#102410" stroke-width="1.1"/>
<circle cx="434.18" cy="91.59" r="1.55" fill="#3a6e30" stroke="#102410" stroke-width="1.1"/>
<circle cx="442.24" cy="89.66" r="1.55" fill="#3a6e30" stroke="#102410" stroke-width="1.1"/>
<circle cx="450.3" cy="65.22" r="1.55" fill="#3a6e30" stroke="#102410" stroke-width="1.1"/>
<circle cx="458.36" cy="83.71" r="1.55" fill="#3a6e30" stroke="#102410" stroke-width="1.1"/>
<circle cx="466.42" cy="89.37" r="1.55" fill="#3a6e30" stroke="#102410" stroke-width="1.1"/>
<circle cx="474.48" cy="88.94" r="1.55" fill="#3a6e30" stroke="#102410" stroke-width="1.1"/>
<circle cx="482.54" cy="86.5" r="1.55" fill="#3a6e30" stroke="#102410" stroke-width="1.1"/>
<circle cx="490.6" cy="88.72" r="1.55" fill="#3a6e30" stroke="#102410" stroke-width="1.1"/>
<circle cx="498.66" cy="83.99" r="1.55" fill="#3a6e30" stroke="#102410" stroke-width="1.1"/>
<circle cx="506.72" cy="88.72" r="1.55" fill="#3a6e30" stroke="#102410" stroke-width="1.1"/>
<circle cx="514.78" cy="89.8" r="1.55" fill="#3a6e30" stroke="#102410" stroke-width="1.1"/>
<circle cx="329.4" cy="91.09" r="1.55" fill="#85704a" stroke="#2a2012" stroke-width="1.1"/>
<circle cx="337.46" cy="90.44" r="1.55" fill="#85704a" stroke="#2a2012" stroke-width="1.1"/>
<circle cx="345.52" cy="90.73" r="1.55" fill="#85704a" stroke="#2a2012" stroke-width="1.1"/>
<circle cx="353.58" cy="88.94" r="1.55" fill="#85704a" stroke="#2a2012" stroke-width="1.1"/>
<circle cx="361.64" cy="87.72" r="1.55" fill="#85704a" stroke="#2a2012" stroke-width="1.1"/>
<circle cx="369.7" cy="88.94" r="1.55" fill="#85704a" stroke="#2a2012" stroke-width="1.1"/>
<circle cx="377.76" cy="87.86" r="1.55" fill="#85704a" stroke="#2a2012" stroke-width="1.1"/>
<circle cx="385.82" cy="90.01" r="1.55" fill="#85704a" stroke="#2a2012" stroke-width="1.1"/>
<circle cx="393.88" cy="89.66" r="1.55" fill="#85704a" stroke="#2a2012" stroke-width="1.1"/>
<circle cx="401.94" cy="90.73" r="1.55" fill="#85704a" stroke="#2a2012" stroke-width="1.1"/>
<circle cx="410" cy="91.8" r="1.55" fill="#85704a" stroke="#2a2012" stroke-width="1.1"/>
<circle cx="418.06" cy="90.01" r="1.55" fill="#85704a" stroke="#2a2012" stroke-width="1.1"/>
<circle cx="426.12" cy="84.5" r="1.55" fill="#85704a" stroke="#2a2012" stroke-width="1.1"/>
<circle cx="434.18" cy="84.5" r="1.55" fill="#85704a" stroke="#2a2012" stroke-width="1.1"/>
<circle cx="442.24" cy="81.77" r="1.55" fill="#85704a" stroke="#2a2012" stroke-width="1.1"/>
<circle cx="450.3" cy="77.83" r="1.55" fill="#85704a" stroke="#2a2012" stroke-width="1.1"/>
<circle cx="458.36" cy="70.38" r="1.55" fill="#85704a" stroke="#2a2012" stroke-width="1.1"/>
<circle cx="466.42" cy="66.8" r="1.55" fill="#85704a" stroke="#2a2012" stroke-width="1.1"/>
<circle cx="474.48" cy="68.3" r="1.55" fill="#85704a" stroke="#2a2012" stroke-width="1.1"/>
<circle cx="482.54" cy="65.22" r="1.55" fill="#85704a" stroke="#2a2012" stroke-width="1.1"/>
<circle cx="490.6" cy="57.48" r="1.55" fill="#85704a" stroke="#2a2012" stroke-width="1.1"/>
<circle cx="498.66" cy="47.02" r="1.55" fill="#85704a" stroke="#2a2012" stroke-width="1.1"/>
<circle cx="506.72" cy="51.82" r="1.55" fill="#85704a" stroke="#2a2012" stroke-width="1.1"/>
<circle cx="514.78" cy="54.48" r="1.55" fill="#85704a" stroke="#2a2012" stroke-width="1.1"/>
<circle cx="329.4" cy="91.45" r="1.55" fill="#666666" stroke="#1a1a1a" stroke-width="1.1"/>
<circle cx="337.46" cy="90.73" r="1.55" fill="#666666" stroke="#1a1a1a" stroke-width="1.1"/>
<circle cx="345.52" cy="91.09" r="1.55" fill="#666666" stroke="#1a1a1a" stroke-width="1.1"/>
<circle cx="353.58" cy="88.94" r="1.55" fill="#666666" stroke="#1a1a1a" stroke-width="1.1"/>
<circle cx="361.64" cy="88.22" r="1.55" fill="#666666" stroke="#1a1a1a" stroke-width="1.1"/>
<circle cx="369.7" cy="88.94" r="1.55" fill="#666666" stroke="#1a1a1a" stroke-width="1.1"/>
<circle cx="377.76" cy="92.16" r="1.55" fill="#666666" stroke="#1a1a1a" stroke-width="1.1"/>
<circle cx="385.82" cy="90.37" r="1.55" fill="#666666" stroke="#1a1a1a" stroke-width="1.1"/>
<circle cx="393.88" cy="90.01" r="1.55" fill="#666666" stroke="#1a1a1a" stroke-width="1.1"/>
<circle cx="401.94" cy="90.73" r="1.55" fill="#666666" stroke="#1a1a1a" stroke-width="1.1"/>
<circle cx="410" cy="91.8" r="1.55" fill="#666666" stroke="#1a1a1a" stroke-width="1.1"/>
<circle cx="418.06" cy="90.37" r="1.55" fill="#666666" stroke="#1a1a1a" stroke-width="1.1"/>
<circle cx="426.12" cy="90.01" r="1.55" fill="#666666" stroke="#1a1a1a" stroke-width="1.1"/>
<circle cx="434.18" cy="90.37" r="1.55" fill="#666666" stroke="#1a1a1a" stroke-width="1.1"/>
<circle cx="442.24" cy="87.22" r="1.55" fill="#666666" stroke="#1a1a1a" stroke-width="1.1"/>
<circle cx="450.3" cy="90.01" r="1.55" fill="#666666" stroke="#1a1a1a" stroke-width="1.1"/>
<circle cx="458.36" cy="89.66" r="1.55" fill="#666666" stroke="#1a1a1a" stroke-width="1.1"/>
<circle cx="466.42" cy="90.01" r="1.55" fill="#666666" stroke="#1a1a1a" stroke-width="1.1"/>
<circle cx="474.48" cy="90.01" r="1.55" fill="#666666" stroke="#1a1a1a" stroke-width="1.1"/>
<circle cx="482.54" cy="90.37" r="1.55" fill="#666666" stroke="#1a1a1a" stroke-width="1.1"/>
<circle cx="490.6" cy="90.01" r="1.55" fill="#666666" stroke="#1a1a1a" stroke-width="1.1"/>
<circle cx="498.66" cy="90.37" r="1.55" fill="#666666" stroke="#1a1a1a" stroke-width="1.1"/>
<circle cx="506.72" cy="90.01" r="1.55" fill="#666666" stroke="#1a1a1a" stroke-width="1.1"/>
<circle cx="514.78" cy="90.37" r="1.55" fill="#666666" stroke="#1a1a1a" stroke-width="1.1"/>
</g>
<rect x="319.5" y="21.5" width="213" height="83" fill="none" stroke="#555555" stroke-width="1.25"/>
<line x1="316.6" y1="33.41" x2="319.6" y2="33.41" stroke="#555555" stroke-width="1"/>
<text transform="translate(314.4,38.01) scale(0.88,1)" text-anchor="end" font-size="10.4" fill="#383838" stroke="#383838" stroke-width="0.42">600</text>
<line x1="316.6" y1="47.74" x2="319.6" y2="47.74" stroke="#555555" stroke-width="1"/>
<text transform="translate(314.4,52.34) scale(0.88,1)" text-anchor="end" font-size="10.4" fill="#383838" stroke="#383838" stroke-width="0.42">400</text>
<line x1="316.6" y1="62.07" x2="319.6" y2="62.07" stroke="#555555" stroke-width="1"/>
<text transform="translate(314.4,66.67) scale(0.88,1)" text-anchor="end" font-size="10.4" fill="#383838" stroke="#383838" stroke-width="0.42">200</text>
<line x1="316.6" y1="76.4" x2="319.6" y2="76.4" stroke="#555555" stroke-width="1"/>
<text transform="translate(314.4,81) scale(0.88,1)" text-anchor="end" font-size="10.4" fill="#383838" stroke="#383838" stroke-width="0.42">0</text>
<line x1="316.6" y1="90.73" x2="319.6" y2="90.73" stroke="#555555" stroke-width="1"/>
<text transform="translate(314.4,95.33) scale(0.88,1)" text-anchor="end" font-size="10.4" fill="#383838" stroke="#383838" stroke-width="0.42">-200</text>
<text transform="translate(537.1,63.1) rotate(90)" text-anchor="middle" font-size="10.6" font-weight="bold" fill="#1a1a1a" stroke="#1a1a1a" stroke-width="0.25">R1-1</text>
<line x1="319.6" y1="165.5" x2="532.3" y2="165.5" stroke="#222222" stroke-width="1.2" stroke-dasharray="3.4,2.7"/>
<line x1="410.5" y1="110.2" x2="410.5" y2="193.2" stroke="#222222" stroke-width="1.2" stroke-dasharray="3.4,2.7" stroke-dashoffset="-1.3"/>
<g clip-path="url(#cb1)">
<g filter="url(#blur)">
<polyline points="329.4,170.47 337.46,159.87 345.52,159.37 353.58,157 361.64,167.25 369.7,156.57 377.76,155.57 385.82,155.43 393.88,151.13 401.94,152.27 410,153.49 418.06,152.27 426.12,150.27 434.18,148.19 442.24,143.46 450.3,142.82 458.36,138.66 466.42,135.72 474.48,131.5 482.54,130.42 490.6,129.7 498.66,128.49 506.72,128.06 514.78,129.7 522.84,123.76" fill="none" stroke="#fbedef" stroke-width="5" stroke-linejoin="round" stroke-linecap="round"/>
<line x1="329.4" y1="161.16" x2="329.4" y2="179.79" stroke="#fbedef" stroke-width="5" stroke-linecap="butt"/>
<line x1="337.46" y1="139.66" x2="337.46" y2="180.07" stroke="#fbedef" stroke-width="5" stroke-linecap="butt"/>
<line x1="345.52" y1="139.23" x2="345.52" y2="179.5" stroke="#fbedef" stroke-width="5" stroke-linecap="butt"/>
<line x1="353.58" y1="135.51" x2="353.58" y2="178.5" stroke="#fbedef" stroke-width="5" stroke-linecap="butt"/>
<line x1="361.64" y1="148.84" x2="361.64" y2="185.66" stroke="#fbedef" stroke-width="5" stroke-linecap="butt"/>
<line x1="369.7" y1="136.44" x2="369.7" y2="176.71" stroke="#fbedef" stroke-width="5" stroke-linecap="butt"/>
<line x1="377.76" y1="136.58" x2="377.76" y2="174.56" stroke="#fbedef" stroke-width="5" stroke-linecap="butt"/>
<line x1="385.82" y1="135.8" x2="385.82" y2="175.06" stroke="#fbedef" stroke-width="5" stroke-linecap="butt"/>
<line x1="393.88" y1="131.5" x2="393.88" y2="170.76" stroke="#fbedef" stroke-width="5" stroke-linecap="butt"/>
<line x1="401.94" y1="132.64" x2="401.94" y2="171.91" stroke="#fbedef" stroke-width="5" stroke-linecap="butt"/>
<line x1="410" y1="128.56" x2="410" y2="178.43" stroke="#fbedef" stroke-width="5" stroke-linecap="butt"/>
<line x1="418.06" y1="133.86" x2="418.06" y2="170.69" stroke="#fbedef" stroke-width="5" stroke-linecap="butt"/>
<line x1="426.12" y1="129.49" x2="426.12" y2="171.05" stroke="#fbedef" stroke-width="5" stroke-linecap="butt"/>
<line x1="434.18" y1="125.62" x2="434.18" y2="170.76" stroke="#fbedef" stroke-width="5" stroke-linecap="butt"/>
<line x1="442.24" y1="123.9" x2="442.24" y2="163.02" stroke="#fbedef" stroke-width="5" stroke-linecap="butt"/>
<line x1="450.3" y1="122.61" x2="450.3" y2="163.02" stroke="#fbedef" stroke-width="5" stroke-linecap="butt"/>
<line x1="458.36" y1="119.67" x2="458.36" y2="157.65" stroke="#fbedef" stroke-width="5" stroke-linecap="butt"/>
<line x1="466.42" y1="116.16" x2="466.42" y2="155.28" stroke="#fbedef" stroke-width="5" stroke-linecap="butt"/>
<line x1="474.48" y1="114.87" x2="474.48" y2="148.12" stroke="#fbedef" stroke-width="5" stroke-linecap="butt"/>
<line x1="482.54" y1="113.23" x2="482.54" y2="147.62" stroke="#fbedef" stroke-width="5" stroke-linecap="butt"/>
<line x1="490.6" y1="112.51" x2="490.6" y2="146.9" stroke="#fbedef" stroke-width="5" stroke-linecap="butt"/>
<line x1="498.66" y1="114.23" x2="498.66" y2="142.75" stroke="#fbedef" stroke-width="5" stroke-linecap="butt"/>
<line x1="506.72" y1="113.15" x2="506.72" y2="142.96" stroke="#fbedef" stroke-width="5" stroke-linecap="butt"/>
<line x1="514.78" y1="112.15" x2="514.78" y2="147.26" stroke="#fbedef" stroke-width="5" stroke-linecap="butt"/>
<line x1="522.84" y1="113.01" x2="522.84" y2="134.51" stroke="#fbedef" stroke-width="5" stroke-linecap="butt"/>
</g>
<polyline points="329.4,176.71 337.46,179.43 345.52,179.43 353.58,179.79 361.64,179.93 369.7,179.93 377.76,179.93 385.82,179.93 393.88,179.93 401.94,179.93 410,179.93 418.06,179.93 426.12,179.93 434.18,179.93 442.24,177.21 450.3,179.93 458.36,179.93 466.42,179.43 474.48,179.43 482.54,179.79 490.6,175.99 498.66,179.93 506.72,179.93 514.78,179.43 522.84,180.5" fill="none" stroke="#7a88d8" stroke-width="1.3" stroke-linejoin="round"/>
<polyline points="329.4,170.47 337.46,159.87 345.52,159.37 353.58,157 361.64,167.25 369.7,156.57 377.76,155.57 385.82,155.43 393.88,151.13 401.94,152.27 410,153.49 418.06,152.27 426.12,150.27 434.18,148.19 442.24,143.46 450.3,142.82 458.36,138.66 466.42,135.72 474.48,131.5 482.54,130.42 490.6,129.7 498.66,128.49 506.72,128.06 514.78,129.7 522.84,123.76" fill="none" stroke="#e2b49e" stroke-width="1.2" stroke-linejoin="round"/>
<polyline points="329.4,170.4 337.46,157.08 345.52,144.46 353.58,137.3 361.64,133.86 369.7,133.5 377.76,128.2 385.82,128.42 393.88,132.43 401.94,125.69 410,125.69 418.06,128.13 426.12,126.41 434.18,126.19 442.24,128.99 450.3,123.76 458.36,123.76 466.42,123.26 474.48,122.61 482.54,122.61 490.6,122.61 498.66,121.9 506.72,122.61 514.78,124.98 522.84,123.26" fill="none" stroke="#a6a6a6" stroke-width="1.1" stroke-linejoin="round"/>
<line x1="329.4" y1="174.56" x2="329.4" y2="178.86" stroke="#8c96d8" stroke-width="1.25"/>
<line x1="337.46" y1="178" x2="337.46" y2="180.86" stroke="#8c96d8" stroke-width="1.25"/>
<line x1="345.52" y1="178" x2="345.52" y2="180.86" stroke="#8c96d8" stroke-width="1.25"/>
<line x1="353.58" y1="178.36" x2="353.58" y2="181.22" stroke="#8c96d8" stroke-width="1.25"/>
<line x1="361.64" y1="178.5" x2="361.64" y2="181.36" stroke="#8c96d8" stroke-width="1.25"/>
<line x1="369.7" y1="178.5" x2="369.7" y2="181.36" stroke="#8c96d8" stroke-width="1.25"/>
<line x1="377.76" y1="178.5" x2="377.76" y2="181.36" stroke="#8c96d8" stroke-width="1.25"/>
<line x1="385.82" y1="178.5" x2="385.82" y2="181.36" stroke="#8c96d8" stroke-width="1.25"/>
<line x1="393.88" y1="178.5" x2="393.88" y2="181.36" stroke="#8c96d8" stroke-width="1.25"/>
<line x1="401.94" y1="178.5" x2="401.94" y2="181.36" stroke="#8c96d8" stroke-width="1.25"/>
<line x1="410" y1="178.5" x2="410" y2="181.36" stroke="#8c96d8" stroke-width="1.25"/>
<line x1="418.06" y1="178.5" x2="418.06" y2="181.36" stroke="#8c96d8" stroke-width="1.25"/>
<line x1="426.12" y1="178.5" x2="426.12" y2="181.36" stroke="#8c96d8" stroke-width="1.25"/>
<line x1="434.18" y1="178.5" x2="434.18" y2="181.36" stroke="#8c96d8" stroke-width="1.25"/>
<line x1="442.24" y1="170.04" x2="442.24" y2="184.37" stroke="#8c96d8" stroke-width="1.25"/>
<line x1="450.3" y1="178.5" x2="450.3" y2="181.36" stroke="#8c96d8" stroke-width="1.25"/>
<line x1="458.36" y1="178.5" x2="458.36" y2="181.36" stroke="#8c96d8" stroke-width="1.25"/>
<line x1="466.42" y1="178" x2="466.42" y2="180.86" stroke="#8c96d8" stroke-width="1.25"/>
<line x1="474.48" y1="178" x2="474.48" y2="180.86" stroke="#8c96d8" stroke-width="1.25"/>
<line x1="482.54" y1="178.36" x2="482.54" y2="181.22" stroke="#8c96d8" stroke-width="1.25"/>
<line x1="490.6" y1="168.83" x2="490.6" y2="183.16" stroke="#8c96d8" stroke-width="1.25"/>
<line x1="498.66" y1="178.5" x2="498.66" y2="181.36" stroke="#8c96d8" stroke-width="1.25"/>
<line x1="506.72" y1="178.5" x2="506.72" y2="181.36" stroke="#8c96d8" stroke-width="1.25"/>
<line x1="514.78" y1="178" x2="514.78" y2="180.86" stroke="#8c96d8" stroke-width="1.25"/>
<line x1="522.84" y1="179.07" x2="522.84" y2="181.94" stroke="#8c96d8" stroke-width="1.25"/>
<line x1="329.4" y1="161.16" x2="329.4" y2="179.79" stroke="#cbb592" stroke-width="1.25"/>
<line x1="337.46" y1="139.66" x2="337.46" y2="180.07" stroke="#cbb592" stroke-width="1.25"/>
<line x1="345.52" y1="139.23" x2="345.52" y2="179.5" stroke="#cbb592" stroke-width="1.25"/>
<line x1="353.58" y1="135.51" x2="353.58" y2="178.5" stroke="#cbb592" stroke-width="1.25"/>
<line x1="361.64" y1="148.84" x2="361.64" y2="185.66" stroke="#cbb592" stroke-width="1.25"/>
<line x1="369.7" y1="136.44" x2="369.7" y2="176.71" stroke="#cbb592" stroke-width="1.25"/>
<line x1="377.76" y1="136.58" x2="377.76" y2="174.56" stroke="#cbb592" stroke-width="1.25"/>
<line x1="385.82" y1="135.8" x2="385.82" y2="175.06" stroke="#cbb592" stroke-width="1.25"/>
<line x1="393.88" y1="131.5" x2="393.88" y2="170.76" stroke="#cbb592" stroke-width="1.25"/>
<line x1="401.94" y1="132.64" x2="401.94" y2="171.91" stroke="#cbb592" stroke-width="1.25"/>
<line x1="410" y1="128.56" x2="410" y2="178.43" stroke="#cbb592" stroke-width="1.25"/>
<line x1="418.06" y1="133.86" x2="418.06" y2="170.69" stroke="#cbb592" stroke-width="1.25"/>
<line x1="426.12" y1="129.49" x2="426.12" y2="171.05" stroke="#cbb592" stroke-width="1.25"/>
<line x1="434.18" y1="125.62" x2="434.18" y2="170.76" stroke="#cbb592" stroke-width="1.25"/>
<line x1="442.24" y1="123.9" x2="442.24" y2="163.02" stroke="#cbb592" stroke-width="1.25"/>
<line x1="450.3" y1="122.61" x2="450.3" y2="163.02" stroke="#cbb592" stroke-width="1.25"/>
<line x1="458.36" y1="119.67" x2="458.36" y2="157.65" stroke="#cbb592" stroke-width="1.25"/>
<line x1="466.42" y1="116.16" x2="466.42" y2="155.28" stroke="#cbb592" stroke-width="1.25"/>
<line x1="474.48" y1="114.87" x2="474.48" y2="148.12" stroke="#cbb592" stroke-width="1.25"/>
<line x1="482.54" y1="113.23" x2="482.54" y2="147.62" stroke="#cbb592" stroke-width="1.25"/>
<line x1="490.6" y1="112.51" x2="490.6" y2="146.9" stroke="#cbb592" stroke-width="1.25"/>
<line x1="498.66" y1="114.23" x2="498.66" y2="142.75" stroke="#cbb592" stroke-width="1.25"/>
<line x1="506.72" y1="113.15" x2="506.72" y2="142.96" stroke="#cbb592" stroke-width="1.25"/>
<line x1="514.78" y1="112.15" x2="514.78" y2="147.26" stroke="#cbb592" stroke-width="1.25"/>
<line x1="522.84" y1="113.01" x2="522.84" y2="134.51" stroke="#cbb592" stroke-width="1.25"/>
<line x1="329.4" y1="161.8" x2="329.4" y2="179" stroke="#9c9c9c" stroke-width="1.25"/>
<line x1="337.46" y1="143.46" x2="337.46" y2="170.69" stroke="#9c9c9c" stroke-width="1.25"/>
<line x1="345.52" y1="130.85" x2="345.52" y2="158.08" stroke="#9c9c9c" stroke-width="1.25"/>
<line x1="353.58" y1="122.25" x2="353.58" y2="152.35" stroke="#9c9c9c" stroke-width="1.25"/>
<line x1="361.64" y1="129.56" x2="361.64" y2="138.16" stroke="#9c9c9c" stroke-width="1.25"/>
<line x1="369.7" y1="130.64" x2="369.7" y2="136.37" stroke="#9c9c9c" stroke-width="1.25"/>
<line x1="377.76" y1="125.33" x2="377.76" y2="131.07" stroke="#9c9c9c" stroke-width="1.25"/>
<line x1="385.82" y1="125.55" x2="385.82" y2="131.28" stroke="#9c9c9c" stroke-width="1.25"/>
<line x1="393.88" y1="127.41" x2="393.88" y2="137.44" stroke="#9c9c9c" stroke-width="1.25"/>
<line x1="401.94" y1="122.83" x2="401.94" y2="128.56" stroke="#9c9c9c" stroke-width="1.25"/>
<line x1="410" y1="122.83" x2="410" y2="128.56" stroke="#9c9c9c" stroke-width="1.25"/>
<line x1="418.06" y1="125.26" x2="418.06" y2="130.99" stroke="#9c9c9c" stroke-width="1.25"/>
<line x1="426.12" y1="123.54" x2="426.12" y2="129.27" stroke="#9c9c9c" stroke-width="1.25"/>
<line x1="434.18" y1="123.33" x2="434.18" y2="129.06" stroke="#9c9c9c" stroke-width="1.25"/>
<line x1="442.24" y1="121.82" x2="442.24" y2="136.15" stroke="#9c9c9c" stroke-width="1.25"/>
<line x1="450.3" y1="120.89" x2="450.3" y2="126.62" stroke="#9c9c9c" stroke-width="1.25"/>
<line x1="458.36" y1="120.89" x2="458.36" y2="126.62" stroke="#9c9c9c" stroke-width="1.25"/>
<line x1="466.42" y1="120.39" x2="466.42" y2="126.12" stroke="#9c9c9c" stroke-width="1.25"/>
<line x1="474.48" y1="119.75" x2="474.48" y2="125.48" stroke="#9c9c9c" stroke-width="1.25"/>
<line x1="482.54" y1="119.75" x2="482.54" y2="125.48" stroke="#9c9c9c" stroke-width="1.25"/>
<line x1="490.6" y1="119.75" x2="490.6" y2="125.48" stroke="#9c9c9c" stroke-width="1.25"/>
<line x1="498.66" y1="119.03" x2="498.66" y2="124.76" stroke="#9c9c9c" stroke-width="1.25"/>
<line x1="506.72" y1="119.75" x2="506.72" y2="125.48" stroke="#9c9c9c" stroke-width="1.25"/>
<line x1="514.78" y1="120.68" x2="514.78" y2="129.27" stroke="#9c9c9c" stroke-width="1.25"/>
<line x1="522.84" y1="118.96" x2="522.84" y2="127.56" stroke="#9c9c9c" stroke-width="1.25"/>
<circle cx="329.4" cy="176.71" r="1.55" fill="#3a4aa0" stroke="#121a50" stroke-width="1.1"/>
<circle cx="337.46" cy="179.43" r="1.55" fill="#3a4aa0" stroke="#121a50" stroke-width="1.1"/>
<circle cx="345.52" cy="179.43" r="1.55" fill="#3a4aa0" stroke="#121a50" stroke-width="1.1"/>
<circle cx="353.58" cy="179.79" r="1.55" fill="#3a4aa0" stroke="#121a50" stroke-width="1.1"/>
<circle cx="361.64" cy="179.93" r="1.55" fill="#3a4aa0" stroke="#121a50" stroke-width="1.1"/>
<circle cx="369.7" cy="179.93" r="1.55" fill="#3a4aa0" stroke="#121a50" stroke-width="1.1"/>
<circle cx="377.76" cy="179.93" r="1.55" fill="#3a4aa0" stroke="#121a50" stroke-width="1.1"/>
<circle cx="385.82" cy="179.93" r="1.55" fill="#3a4aa0" stroke="#121a50" stroke-width="1.1"/>
<circle cx="393.88" cy="179.93" r="1.55" fill="#3a4aa0" stroke="#121a50" stroke-width="1.1"/>
<circle cx="401.94" cy="179.93" r="1.55" fill="#3a4aa0" stroke="#121a50" stroke-width="1.1"/>
<circle cx="410" cy="179.93" r="1.55" fill="#3a4aa0" stroke="#121a50" stroke-width="1.1"/>
<circle cx="418.06" cy="179.93" r="1.55" fill="#3a4aa0" stroke="#121a50" stroke-width="1.1"/>
<circle cx="426.12" cy="179.93" r="1.55" fill="#3a4aa0" stroke="#121a50" stroke-width="1.1"/>
<circle cx="434.18" cy="179.93" r="1.55" fill="#3a4aa0" stroke="#121a50" stroke-width="1.1"/>
<circle cx="442.24" cy="177.21" r="1.55" fill="#3a4aa0" stroke="#121a50" stroke-width="1.1"/>
<circle cx="450.3" cy="179.93" r="1.55" fill="#3a4aa0" stroke="#121a50" stroke-width="1.1"/>
<circle cx="458.36" cy="179.93" r="1.55" fill="#3a4aa0" stroke="#121a50" stroke-width="1.1"/>
<circle cx="466.42" cy="179.43" r="1.55" fill="#3a4aa0" stroke="#121a50" stroke-width="1.1"/>
<circle cx="474.48" cy="179.43" r="1.55" fill="#3a4aa0" stroke="#121a50" stroke-width="1.1"/>
<circle cx="482.54" cy="179.79" r="1.55" fill="#3a4aa0" stroke="#121a50" stroke-width="1.1"/>
<circle cx="490.6" cy="175.99" r="1.55" fill="#3a4aa0" stroke="#121a50" stroke-width="1.1"/>
<circle cx="498.66" cy="179.93" r="1.55" fill="#3a4aa0" stroke="#121a50" stroke-width="1.1"/>
<circle cx="506.72" cy="179.93" r="1.55" fill="#3a4aa0" stroke="#121a50" stroke-width="1.1"/>
<circle cx="514.78" cy="179.43" r="1.55" fill="#3a4aa0" stroke="#121a50" stroke-width="1.1"/>
<circle cx="522.84" cy="180.5" r="1.55" fill="#3a4aa0" stroke="#121a50" stroke-width="1.1"/>
<circle cx="329.4" cy="170.47" r="1.55" fill="#85704a" stroke="#2a2012" stroke-width="1.1"/>
<circle cx="337.46" cy="159.87" r="1.55" fill="#85704a" stroke="#2a2012" stroke-width="1.1"/>
<circle cx="345.52" cy="159.37" r="1.55" fill="#85704a" stroke="#2a2012" stroke-width="1.1"/>
<circle cx="353.58" cy="157" r="1.55" fill="#85704a" stroke="#2a2012" stroke-width="1.1"/>
<circle cx="361.64" cy="167.25" r="1.55" fill="#85704a" stroke="#2a2012" stroke-width="1.1"/>
<circle cx="369.7" cy="156.57" r="1.55" fill="#85704a" stroke="#2a2012" stroke-width="1.1"/>
<circle cx="377.76" cy="155.57" r="1.55" fill="#85704a" stroke="#2a2012" stroke-width="1.1"/>
<circle cx="385.82" cy="155.43" r="1.55" fill="#85704a" stroke="#2a2012" stroke-width="1.1"/>
<circle cx="393.88" cy="151.13" r="1.55" fill="#85704a" stroke="#2a2012" stroke-width="1.1"/>
<circle cx="401.94" cy="152.27" r="1.55" fill="#85704a" stroke="#2a2012" stroke-width="1.1"/>
<circle cx="410" cy="153.49" r="1.55" fill="#85704a" stroke="#2a2012" stroke-width="1.1"/>
<circle cx="418.06" cy="152.27" r="1.55" fill="#85704a" stroke="#2a2012" stroke-width="1.1"/>
<circle cx="426.12" cy="150.27" r="1.55" fill="#85704a" stroke="#2a2012" stroke-width="1.1"/>
<circle cx="434.18" cy="148.19" r="1.55" fill="#85704a" stroke="#2a2012" stroke-width="1.1"/>
<circle cx="442.24" cy="143.46" r="1.55" fill="#85704a" stroke="#2a2012" stroke-width="1.1"/>
<circle cx="450.3" cy="142.82" r="1.55" fill="#85704a" stroke="#2a2012" stroke-width="1.1"/>
<circle cx="458.36" cy="138.66" r="1.55" fill="#85704a" stroke="#2a2012" stroke-width="1.1"/>
<circle cx="466.42" cy="135.72" r="1.55" fill="#85704a" stroke="#2a2012" stroke-width="1.1"/>
<circle cx="474.48" cy="131.5" r="1.55" fill="#85704a" stroke="#2a2012" stroke-width="1.1"/>
<circle cx="482.54" cy="130.42" r="1.55" fill="#85704a" stroke="#2a2012" stroke-width="1.1"/>
<circle cx="490.6" cy="129.7" r="1.55" fill="#85704a" stroke="#2a2012" stroke-width="1.1"/>
<circle cx="498.66" cy="128.49" r="1.55" fill="#85704a" stroke="#2a2012" stroke-width="1.1"/>
<circle cx="506.72" cy="128.06" r="1.55" fill="#85704a" stroke="#2a2012" stroke-width="1.1"/>
<circle cx="514.78" cy="129.7" r="1.55" fill="#85704a" stroke="#2a2012" stroke-width="1.1"/>
<circle cx="522.84" cy="123.76" r="1.55" fill="#85704a" stroke="#2a2012" stroke-width="1.1"/>
<circle cx="329.4" cy="170.4" r="1.55" fill="#666666" stroke="#1a1a1a" stroke-width="1.1"/>
<circle cx="337.46" cy="157.08" r="1.55" fill="#666666" stroke="#1a1a1a" stroke-width="1.1"/>
<circle cx="345.52" cy="144.46" r="1.55" fill="#666666" stroke="#1a1a1a" stroke-width="1.1"/>
<circle cx="353.58" cy="137.3" r="1.55" fill="#666666" stroke="#1a1a1a" stroke-width="1.1"/>
<circle cx="361.64" cy="133.86" r="1.55" fill="#666666" stroke="#1a1a1a" stroke-width="1.1"/>
<circle cx="369.7" cy="133.5" r="1.55" fill="#666666" stroke="#1a1a1a" stroke-width="1.1"/>
<circle cx="377.76" cy="128.2" r="1.55" fill="#666666" stroke="#1a1a1a" stroke-width="1.1"/>
<circle cx="385.82" cy="128.42" r="1.55" fill="#666666" stroke="#1a1a1a" stroke-width="1.1"/>
<circle cx="393.88" cy="132.43" r="1.55" fill="#666666" stroke="#1a1a1a" stroke-width="1.1"/>
<circle cx="401.94" cy="125.69" r="1.55" fill="#666666" stroke="#1a1a1a" stroke-width="1.1"/>
<circle cx="410" cy="125.69" r="1.55" fill="#666666" stroke="#1a1a1a" stroke-width="1.1"/>
<circle cx="418.06" cy="128.13" r="1.55" fill="#666666" stroke="#1a1a1a" stroke-width="1.1"/>
<circle cx="426.12" cy="126.41" r="1.55" fill="#666666" stroke="#1a1a1a" stroke-width="1.1"/>
<circle cx="434.18" cy="126.19" r="1.55" fill="#666666" stroke="#1a1a1a" stroke-width="1.1"/>
<circle cx="442.24" cy="128.99" r="1.55" fill="#666666" stroke="#1a1a1a" stroke-width="1.1"/>
<circle cx="450.3" cy="123.76" r="1.55" fill="#666666" stroke="#1a1a1a" stroke-width="1.1"/>
<circle cx="458.36" cy="123.76" r="1.55" fill="#666666" stroke="#1a1a1a" stroke-width="1.1"/>
<circle cx="466.42" cy="123.26" r="1.55" fill="#666666" stroke="#1a1a1a" stroke-width="1.1"/>
<circle cx="474.48" cy="122.61" r="1.55" fill="#666666" stroke="#1a1a1a" stroke-width="1.1"/>
<circle cx="482.54" cy="122.61" r="1.55" fill="#666666" stroke="#1a1a1a" stroke-width="1.1"/>
<circle cx="490.6" cy="122.61" r="1.55" fill="#666666" stroke="#1a1a1a" stroke-width="1.1"/>
<circle cx="498.66" cy="121.9" r="1.55" fill="#666666" stroke="#1a1a1a" stroke-width="1.1"/>
<circle cx="506.72" cy="122.61" r="1.55" fill="#666666" stroke="#1a1a1a" stroke-width="1.1"/>
<circle cx="514.78" cy="124.98" r="1.55" fill="#666666" stroke="#1a1a1a" stroke-width="1.1"/>
<circle cx="522.84" cy="123.26" r="1.55" fill="#666666" stroke="#1a1a1a" stroke-width="1.1"/>
</g>
<rect x="319.5" y="110.5" width="213" height="83" fill="none" stroke="#555555" stroke-width="1.25"/>
<line x1="316.6" y1="122.11" x2="319.6" y2="122.11" stroke="#555555" stroke-width="1"/>
<text transform="translate(314.4,126.71) scale(0.88,1)" text-anchor="end" font-size="10.4" fill="#383838" stroke="#383838" stroke-width="0.42">600</text>
<line x1="316.6" y1="136.44" x2="319.6" y2="136.44" stroke="#555555" stroke-width="1"/>
<text transform="translate(314.4,141.04) scale(0.88,1)" text-anchor="end" font-size="10.4" fill="#383838" stroke="#383838" stroke-width="0.42">400</text>
<line x1="316.6" y1="150.77" x2="319.6" y2="150.77" stroke="#555555" stroke-width="1"/>
<text transform="translate(314.4,155.37) scale(0.88,1)" text-anchor="end" font-size="10.4" fill="#383838" stroke="#383838" stroke-width="0.42">200</text>
<line x1="316.6" y1="165.1" x2="319.6" y2="165.1" stroke="#555555" stroke-width="1"/>
<text transform="translate(314.4,169.7) scale(0.88,1)" text-anchor="end" font-size="10.4" fill="#383838" stroke="#383838" stroke-width="0.42">0</text>
<line x1="316.6" y1="179.43" x2="319.6" y2="179.43" stroke="#555555" stroke-width="1"/>
<text transform="translate(314.4,184.03) scale(0.88,1)" text-anchor="end" font-size="10.4" fill="#383838" stroke="#383838" stroke-width="0.42">-200</text>
<text transform="translate(537.1,151.7) rotate(90)" text-anchor="middle" font-size="10.6" font-weight="bold" fill="#1a1a1a" stroke="#1a1a1a" stroke-width="0.25">R2-1</text>
<line x1="319.6" y1="253.5" x2="532.3" y2="253.5" stroke="#222222" stroke-width="1.2" stroke-dasharray="3.4,2.7"/>
<line x1="410.5" y1="198.8" x2="410.5" y2="281.8" stroke="#222222" stroke-width="1.2" stroke-dasharray="3.4,2.7" stroke-dashoffset="-1.3"/>
<g clip-path="url(#cb2)">
<g filter="url(#blur)">
<polyline points="329.4,250.62 337.46,248.68 345.52,249.9 353.58,246.82 361.64,245.1 369.7,243.53 377.76,244.39 385.82,247.47 393.88,242.81 401.94,242.31 410,242.31 418.06,243.17 426.12,240.87 434.18,242.81 442.24,235.21 450.3,231.42 458.36,241.59 466.42,240.37 474.48,235.57 482.54,233.28 490.6,231.42 498.66,242.31 506.72,233.28 514.78,234.43 522.84,237.51" fill="none" stroke="#fbedef" stroke-width="5" stroke-linejoin="round" stroke-linecap="round"/>
<line x1="329.4" y1="241.73" x2="329.4" y2="259.5" stroke="#fbedef" stroke-width="5" stroke-linecap="butt"/>
<line x1="337.46" y1="235.57" x2="337.46" y2="261.8" stroke="#fbedef" stroke-width="5" stroke-linecap="butt"/>
<line x1="345.52" y1="240.37" x2="345.52" y2="259.43" stroke="#fbedef" stroke-width="5" stroke-linecap="butt"/>
<line x1="353.58" y1="229.63" x2="353.58" y2="264.02" stroke="#fbedef" stroke-width="5" stroke-linecap="butt"/>
<line x1="361.64" y1="226.11" x2="361.64" y2="264.09" stroke="#fbedef" stroke-width="5" stroke-linecap="butt"/>
<line x1="369.7" y1="223.97" x2="369.7" y2="263.09" stroke="#fbedef" stroke-width="5" stroke-linecap="butt"/>
<line x1="377.76" y1="227.76" x2="377.76" y2="261.01" stroke="#fbedef" stroke-width="5" stroke-linecap="butt"/>
<line x1="385.82" y1="229.7" x2="385.82" y2="265.24" stroke="#fbedef" stroke-width="5" stroke-linecap="butt"/>
<line x1="393.88" y1="220.6" x2="393.88" y2="265.02" stroke="#fbedef" stroke-width="5" stroke-linecap="butt"/>
<line x1="401.94" y1="219.88" x2="401.94" y2="264.73" stroke="#fbedef" stroke-width="5" stroke-linecap="butt"/>
<line x1="410" y1="218.52" x2="410" y2="266.1" stroke="#fbedef" stroke-width="5" stroke-linecap="butt"/>
<line x1="418.06" y1="221.89" x2="418.06" y2="264.45" stroke="#fbedef" stroke-width="5" stroke-linecap="butt"/>
<line x1="426.12" y1="219.45" x2="426.12" y2="262.3" stroke="#fbedef" stroke-width="5" stroke-linecap="butt"/>
<line x1="434.18" y1="220.88" x2="434.18" y2="264.73" stroke="#fbedef" stroke-width="5" stroke-linecap="butt"/>
<line x1="442.24" y1="210.28" x2="442.24" y2="260.15" stroke="#fbedef" stroke-width="5" stroke-linecap="butt"/>
<line x1="450.3" y1="206.48" x2="450.3" y2="256.35" stroke="#fbedef" stroke-width="5" stroke-linecap="butt"/>
<line x1="458.36" y1="224.97" x2="458.36" y2="258.21" stroke="#fbedef" stroke-width="5" stroke-linecap="butt"/>
<line x1="466.42" y1="222.6" x2="466.42" y2="258.14" stroke="#fbedef" stroke-width="5" stroke-linecap="butt"/>
<line x1="474.48" y1="212.72" x2="474.48" y2="258.43" stroke="#fbedef" stroke-width="5" stroke-linecap="butt"/>
<line x1="482.54" y1="210.71" x2="482.54" y2="255.85" stroke="#fbedef" stroke-width="5" stroke-linecap="butt"/>
<line x1="490.6" y1="210.28" x2="490.6" y2="252.55" stroke="#fbedef" stroke-width="5" stroke-linecap="butt"/>
<line x1="498.66" y1="225.68" x2="498.66" y2="258.93" stroke="#fbedef" stroke-width="5" stroke-linecap="butt"/>
<line x1="506.72" y1="211.93" x2="506.72" y2="254.63" stroke="#fbedef" stroke-width="5" stroke-linecap="butt"/>
<line x1="514.78" y1="206.98" x2="514.78" y2="261.87" stroke="#fbedef" stroke-width="5" stroke-linecap="butt"/>
<line x1="522.84" y1="217.23" x2="522.84" y2="257.78" stroke="#fbedef" stroke-width="5" stroke-linecap="butt"/>
</g>
<polyline points="329.4,262.23 337.46,264.09 345.52,264.59 353.58,264.81 361.64,264.81 369.7,266.02 377.76,265.31 385.82,265.16 393.88,265.16 401.94,265.16 410,265.16 418.06,264.09 426.12,264.45 434.18,265.16 442.24,264.09 450.3,265.16 458.36,265.16 466.42,265.16 474.48,267.67 482.54,267.67 490.6,267.67 498.66,267.67 506.72,267.67 514.78,267.67 522.84,267.67" fill="none" stroke="#7a88d8" stroke-width="1.3" stroke-linejoin="round"/>
<polyline points="329.4,250.62 337.46,248.68 345.52,249.9 353.58,246.82 361.64,245.1 369.7,243.53 377.76,244.39 385.82,247.47 393.88,242.81 401.94,242.31 410,242.31 418.06,243.17 426.12,240.87 434.18,242.81 442.24,235.21 450.3,231.42 458.36,241.59 466.42,240.37 474.48,235.57 482.54,233.28 490.6,231.42 498.66,242.31 506.72,233.28 514.78,234.43 522.84,237.51" fill="none" stroke="#e2b49e" stroke-width="1.2" stroke-linejoin="round"/>
<polyline points="329.4,233.28 337.46,222.6 345.52,226.11 353.58,220.17 361.64,220.17 369.7,215.37 377.76,218.16 385.82,215.37 393.88,214.87 401.94,217.23 410,214.87 418.06,217.23 426.12,215.37 434.18,214.15 442.24,214.87 450.3,213.43 458.36,214.15 466.42,214.15 474.48,212.93 482.54,213.43 490.6,214.15 498.66,214.15 506.72,214.15 514.78,214.15 522.84,214.15" fill="none" stroke="#a6a6a6" stroke-width="1.1" stroke-linejoin="round"/>
<line x1="329.4" y1="253.84" x2="329.4" y2="270.61" stroke="#8c96d8" stroke-width="1.25"/>
<line x1="337.46" y1="256.92" x2="337.46" y2="271.25" stroke="#8c96d8" stroke-width="1.25"/>
<line x1="345.52" y1="257.43" x2="345.52" y2="271.76" stroke="#8c96d8" stroke-width="1.25"/>
<line x1="353.58" y1="257.64" x2="353.58" y2="271.97" stroke="#8c96d8" stroke-width="1.25"/>
<line x1="361.64" y1="257.64" x2="361.64" y2="271.97" stroke="#8c96d8" stroke-width="1.25"/>
<line x1="369.7" y1="260.29" x2="369.7" y2="271.76" stroke="#8c96d8" stroke-width="1.25"/>
<line x1="377.76" y1="259.58" x2="377.76" y2="271.04" stroke="#8c96d8" stroke-width="1.25"/>
<line x1="385.82" y1="260.87" x2="385.82" y2="269.46" stroke="#8c96d8" stroke-width="1.25"/>
<line x1="393.88" y1="260.87" x2="393.88" y2="269.46" stroke="#8c96d8" stroke-width="1.25"/>
<line x1="401.94" y1="260.87" x2="401.94" y2="269.46" stroke="#8c96d8" stroke-width="1.25"/>
<line x1="410" y1="260.87" x2="410" y2="269.46" stroke="#8c96d8" stroke-width="1.25"/>
<line x1="418.06" y1="259.79" x2="418.06" y2="268.39" stroke="#8c96d8" stroke-width="1.25"/>
<line x1="426.12" y1="258.72" x2="426.12" y2="270.18" stroke="#8c96d8" stroke-width="1.25"/>
<line x1="434.18" y1="258" x2="434.18" y2="272.33" stroke="#8c96d8" stroke-width="1.25"/>
<line x1="442.24" y1="256.21" x2="442.24" y2="271.97" stroke="#8c96d8" stroke-width="1.25"/>
<line x1="450.3" y1="257.28" x2="450.3" y2="273.05" stroke="#8c96d8" stroke-width="1.25"/>
<line x1="458.36" y1="258" x2="458.36" y2="272.33" stroke="#8c96d8" stroke-width="1.25"/>
<line x1="466.42" y1="259.43" x2="466.42" y2="270.9" stroke="#8c96d8" stroke-width="1.25"/>
<line x1="474.48" y1="264.81" x2="474.48" y2="270.54" stroke="#8c96d8" stroke-width="1.25"/>
<line x1="482.54" y1="264.81" x2="482.54" y2="270.54" stroke="#8c96d8" stroke-width="1.25"/>
<line x1="490.6" y1="264.81" x2="490.6" y2="270.54" stroke="#8c96d8" stroke-width="1.25"/>
<line x1="498.66" y1="264.81" x2="498.66" y2="270.54" stroke="#8c96d8" stroke-width="1.25"/>
<line x1="506.72" y1="264.81" x2="506.72" y2="270.54" stroke="#8c96d8" stroke-width="1.25"/>
<line x1="514.78" y1="264.81" x2="514.78" y2="270.54" stroke="#8c96d8" stroke-width="1.25"/>
<line x1="522.84" y1="264.81" x2="522.84" y2="270.54" stroke="#8c96d8" stroke-width="1.25"/>
<line x1="329.4" y1="241.73" x2="329.4" y2="259.5" stroke="#cbb592" stroke-width="1.25"/>
<line x1="337.46" y1="235.57" x2="337.46" y2="261.8" stroke="#cbb592" stroke-width="1.25"/>
<line x1="345.52" y1="240.37" x2="345.52" y2="259.43" stroke="#cbb592" stroke-width="1.25"/>
<line x1="353.58" y1="229.63" x2="353.58" y2="264.02" stroke="#cbb592" stroke-width="1.25"/>
<line x1="361.64" y1="226.11" x2="361.64" y2="264.09" stroke="#cbb592" stroke-width="1.25"/>
<line x1="369.7" y1="223.97" x2="369.7" y2="263.09" stroke="#cbb592" stroke-width="1.25"/>
<line x1="377.76" y1="227.76" x2="377.76" y2="261.01" stroke="#cbb592" stroke-width="1.25"/>
<line x1="385.82" y1="229.7" x2="385.82" y2="265.24" stroke="#cbb592" stroke-width="1.25"/>
<line x1="393.88" y1="220.6" x2="393.88" y2="265.02" stroke="#cbb592" stroke-width="1.25"/>
<line x1="401.94" y1="219.88" x2="401.94" y2="264.73" stroke="#cbb592" stroke-width="1.25"/>
<line x1="410" y1="218.52" x2="410" y2="266.1" stroke="#cbb592" stroke-width="1.25"/>
<line x1="418.06" y1="221.89" x2="418.06" y2="264.45" stroke="#cbb592" stroke-width="1.25"/>
<line x1="426.12" y1="219.45" x2="426.12" y2="262.3" stroke="#cbb592" stroke-width="1.25"/>
<line x1="434.18" y1="220.88" x2="434.18" y2="264.73" stroke="#cbb592" stroke-width="1.25"/>
<line x1="442.24" y1="210.28" x2="442.24" y2="260.15" stroke="#cbb592" stroke-width="1.25"/>
<line x1="450.3" y1="206.48" x2="450.3" y2="256.35" stroke="#cbb592" stroke-width="1.25"/>
<line x1="458.36" y1="224.97" x2="458.36" y2="258.21" stroke="#cbb592" stroke-width="1.25"/>
<line x1="466.42" y1="222.6" x2="466.42" y2="258.14" stroke="#cbb592" stroke-width="1.25"/>
<line x1="474.48" y1="212.72" x2="474.48" y2="258.43" stroke="#cbb592" stroke-width="1.25"/>
<line x1="482.54" y1="210.71" x2="482.54" y2="255.85" stroke="#cbb592" stroke-width="1.25"/>
<line x1="490.6" y1="210.28" x2="490.6" y2="252.55" stroke="#cbb592" stroke-width="1.25"/>
<line x1="498.66" y1="225.68" x2="498.66" y2="258.93" stroke="#cbb592" stroke-width="1.25"/>
<line x1="506.72" y1="211.93" x2="506.72" y2="254.63" stroke="#cbb592" stroke-width="1.25"/>
<line x1="514.78" y1="206.98" x2="514.78" y2="261.87" stroke="#cbb592" stroke-width="1.25"/>
<line x1="522.84" y1="217.23" x2="522.84" y2="257.78" stroke="#cbb592" stroke-width="1.25"/>
<line x1="329.4" y1="227.33" x2="329.4" y2="239.23" stroke="#9c9c9c" stroke-width="1.25"/>
<line x1="337.46" y1="216.66" x2="337.46" y2="228.55" stroke="#9c9c9c" stroke-width="1.25"/>
<line x1="345.52" y1="218.95" x2="345.52" y2="233.28" stroke="#9c9c9c" stroke-width="1.25"/>
<line x1="353.58" y1="215.87" x2="353.58" y2="224.47" stroke="#9c9c9c" stroke-width="1.25"/>
<line x1="361.64" y1="213.72" x2="361.64" y2="226.62" stroke="#9c9c9c" stroke-width="1.25"/>
<line x1="369.7" y1="211.07" x2="369.7" y2="219.67" stroke="#9c9c9c" stroke-width="1.25"/>
<line x1="377.76" y1="215.3" x2="377.76" y2="221.03" stroke="#9c9c9c" stroke-width="1.25"/>
<line x1="385.82" y1="212.5" x2="385.82" y2="218.23" stroke="#9c9c9c" stroke-width="1.25"/>
<line x1="393.88" y1="212" x2="393.88" y2="217.73" stroke="#9c9c9c" stroke-width="1.25"/>
<line x1="401.94" y1="214.36" x2="401.94" y2="220.1" stroke="#9c9c9c" stroke-width="1.25"/>
<line x1="410" y1="212" x2="410" y2="217.73" stroke="#9c9c9c" stroke-width="1.25"/>
<line x1="418.06" y1="214.36" x2="418.06" y2="220.1" stroke="#9c9c9c" stroke-width="1.25"/>
<line x1="426.12" y1="212.5" x2="426.12" y2="218.23" stroke="#9c9c9c" stroke-width="1.25"/>
<line x1="434.18" y1="211.28" x2="434.18" y2="217.02" stroke="#9c9c9c" stroke-width="1.25"/>
<line x1="442.24" y1="212" x2="442.24" y2="217.73" stroke="#9c9c9c" stroke-width="1.25"/>
<line x1="450.3" y1="210.57" x2="450.3" y2="216.3" stroke="#9c9c9c" stroke-width="1.25"/>
<line x1="458.36" y1="211.28" x2="458.36" y2="217.02" stroke="#9c9c9c" stroke-width="1.25"/>
<line x1="466.42" y1="211.28" x2="466.42" y2="217.02" stroke="#9c9c9c" stroke-width="1.25"/>
<line x1="474.48" y1="210.07" x2="474.48" y2="215.8" stroke="#9c9c9c" stroke-width="1.25"/>
<line x1="482.54" y1="210.57" x2="482.54" y2="216.3" stroke="#9c9c9c" stroke-width="1.25"/>
<line x1="490.6" y1="211.28" x2="490.6" y2="217.02" stroke="#9c9c9c" stroke-width="1.25"/>
<line x1="498.66" y1="211.28" x2="498.66" y2="217.02" stroke="#9c9c9c" stroke-width="1.25"/>
<line x1="506.72" y1="211.28" x2="506.72" y2="217.02" stroke="#9c9c9c" stroke-width="1.25"/>
<line x1="514.78" y1="211.28" x2="514.78" y2="217.02" stroke="#9c9c9c" stroke-width="1.25"/>
<line x1="522.84" y1="211.28" x2="522.84" y2="217.02" stroke="#9c9c9c" stroke-width="1.25"/>
<circle cx="329.4" cy="262.23" r="1.55" fill="#3a4aa0" stroke="#121a50" stroke-width="1.1"/>
<circle cx="337.46" cy="264.09" r="1.55" fill="#3a4aa0" stroke="#121a50" stroke-width="1.1"/>
<circle cx="345.52" cy="264.59" r="1.55" fill="#3a4aa0" stroke="#121a50" stroke-width="1.1"/>
<circle cx="353.58" cy="264.81" r="1.55" fill="#3a4aa0" stroke="#121a50" stroke-width="1.1"/>
<circle cx="361.64" cy="264.81" r="1.55" fill="#3a4aa0" stroke="#121a50" stroke-width="1.1"/>
<circle cx="369.7" cy="266.02" r="1.55" fill="#3a4aa0" stroke="#121a50" stroke-width="1.1"/>
<circle cx="377.76" cy="265.31" r="1.55" fill="#3a4aa0" stroke="#121a50" stroke-width="1.1"/>
<circle cx="385.82" cy="265.16" r="1.55" fill="#3a4aa0" stroke="#121a50" stroke-width="1.1"/>
<circle cx="393.88" cy="265.16" r="1.55" fill="#3a4aa0" stroke="#121a50" stroke-width="1.1"/>
<circle cx="401.94" cy="265.16" r="1.55" fill="#3a4aa0" stroke="#121a50" stroke-width="1.1"/>
<circle cx="410" cy="265.16" r="1.55" fill="#3a4aa0" stroke="#121a50" stroke-width="1.1"/>
<circle cx="418.06" cy="264.09" r="1.55" fill="#3a4aa0" stroke="#121a50" stroke-width="1.1"/>
<circle cx="426.12" cy="264.45" r="1.55" fill="#3a4aa0" stroke="#121a50" stroke-width="1.1"/>
<circle cx="434.18" cy="265.16" r="1.55" fill="#3a4aa0" stroke="#121a50" stroke-width="1.1"/>
<circle cx="442.24" cy="264.09" r="1.55" fill="#3a4aa0" stroke="#121a50" stroke-width="1.1"/>
<circle cx="450.3" cy="265.16" r="1.55" fill="#3a4aa0" stroke="#121a50" stroke-width="1.1"/>
<circle cx="458.36" cy="265.16" r="1.55" fill="#3a4aa0" stroke="#121a50" stroke-width="1.1"/>
<circle cx="466.42" cy="265.16" r="1.55" fill="#3a4aa0" stroke="#121a50" stroke-width="1.1"/>
<circle cx="474.48" cy="267.67" r="1.55" fill="#3a4aa0" stroke="#121a50" stroke-width="1.1"/>
<circle cx="482.54" cy="267.67" r="1.55" fill="#3a4aa0" stroke="#121a50" stroke-width="1.1"/>
<circle cx="490.6" cy="267.67" r="1.55" fill="#3a4aa0" stroke="#121a50" stroke-width="1.1"/>
<circle cx="498.66" cy="267.67" r="1.55" fill="#3a4aa0" stroke="#121a50" stroke-width="1.1"/>
<circle cx="506.72" cy="267.67" r="1.55" fill="#3a4aa0" stroke="#121a50" stroke-width="1.1"/>
<circle cx="514.78" cy="267.67" r="1.55" fill="#3a4aa0" stroke="#121a50" stroke-width="1.1"/>
<circle cx="522.84" cy="267.67" r="1.55" fill="#3a4aa0" stroke="#121a50" stroke-width="1.1"/>
<circle cx="329.4" cy="250.62" r="1.55" fill="#85704a" stroke="#2a2012" stroke-width="1.1"/>
<circle cx="337.46" cy="248.68" r="1.55" fill="#85704a" stroke="#2a2012" stroke-width="1.1"/>
<circle cx="345.52" cy="249.9" r="1.55" fill="#85704a" stroke="#2a2012" stroke-width="1.1"/>
<circle cx="353.58" cy="246.82" r="1.55" fill="#85704a" stroke="#2a2012" stroke-width="1.1"/>
<circle cx="361.64" cy="245.1" r="1.55" fill="#85704a" stroke="#2a2012" stroke-width="1.1"/>
<circle cx="369.7" cy="243.53" r="1.55" fill="#85704a" stroke="#2a2012" stroke-width="1.1"/>
<circle cx="377.76" cy="244.39" r="1.55" fill="#85704a" stroke="#2a2012" stroke-width="1.1"/>
<circle cx="385.82" cy="247.47" r="1.55" fill="#85704a" stroke="#2a2012" stroke-width="1.1"/>
<circle cx="393.88" cy="242.81" r="1.55" fill="#85704a" stroke="#2a2012" stroke-width="1.1"/>
<circle cx="401.94" cy="242.31" r="1.55" fill="#85704a" stroke="#2a2012" stroke-width="1.1"/>
<circle cx="410" cy="242.31" r="1.55" fill="#85704a" stroke="#2a2012" stroke-width="1.1"/>
<circle cx="418.06" cy="243.17" r="1.55" fill="#85704a" stroke="#2a2012" stroke-width="1.1"/>
<circle cx="426.12" cy="240.87" r="1.55" fill="#85704a" stroke="#2a2012" stroke-width="1.1"/>
<circle cx="434.18" cy="242.81" r="1.55" fill="#85704a" stroke="#2a2012" stroke-width="1.1"/>
<circle cx="442.24" cy="235.21" r="1.55" fill="#85704a" stroke="#2a2012" stroke-width="1.1"/>
<circle cx="450.3" cy="231.42" r="1.55" fill="#85704a" stroke="#2a2012" stroke-width="1.1"/>
<circle cx="458.36" cy="241.59" r="1.55" fill="#85704a" stroke="#2a2012" stroke-width="1.1"/>
<circle cx="466.42" cy="240.37" r="1.55" fill="#85704a" stroke="#2a2012" stroke-width="1.1"/>
<circle cx="474.48" cy="235.57" r="1.55" fill="#85704a" stroke="#2a2012" stroke-width="1.1"/>
<circle cx="482.54" cy="233.28" r="1.55" fill="#85704a" stroke="#2a2012" stroke-width="1.1"/>
<circle cx="490.6" cy="231.42" r="1.55" fill="#85704a" stroke="#2a2012" stroke-width="1.1"/>
<circle cx="498.66" cy="242.31" r="1.55" fill="#85704a" stroke="#2a2012" stroke-width="1.1"/>
<circle cx="506.72" cy="233.28" r="1.55" fill="#85704a" stroke="#2a2012" stroke-width="1.1"/>
<circle cx="514.78" cy="234.43" r="1.55" fill="#85704a" stroke="#2a2012" stroke-width="1.1"/>
<circle cx="522.84" cy="237.51" r="1.55" fill="#85704a" stroke="#2a2012" stroke-width="1.1"/>
<circle cx="329.4" cy="233.28" r="1.55" fill="#666666" stroke="#1a1a1a" stroke-width="1.1"/>
<circle cx="337.46" cy="222.6" r="1.55" fill="#666666" stroke="#1a1a1a" stroke-width="1.1"/>
<circle cx="345.52" cy="226.11" r="1.55" fill="#666666" stroke="#1a1a1a" stroke-width="1.1"/>
<circle cx="353.58" cy="220.17" r="1.55" fill="#666666" stroke="#1a1a1a" stroke-width="1.1"/>
<circle cx="361.64" cy="220.17" r="1.55" fill="#666666" stroke="#1a1a1a" stroke-width="1.1"/>
<circle cx="369.7" cy="215.37" r="1.55" fill="#666666" stroke="#1a1a1a" stroke-width="1.1"/>
<circle cx="377.76" cy="218.16" r="1.55" fill="#666666" stroke="#1a1a1a" stroke-width="1.1"/>
<circle cx="385.82" cy="215.37" r="1.55" fill="#666666" stroke="#1a1a1a" stroke-width="1.1"/>
<circle cx="393.88" cy="214.87" r="1.55" fill="#666666" stroke="#1a1a1a" stroke-width="1.1"/>
<circle cx="401.94" cy="217.23" r="1.55" fill="#666666" stroke="#1a1a1a" stroke-width="1.1"/>
<circle cx="410" cy="214.87" r="1.55" fill="#666666" stroke="#1a1a1a" stroke-width="1.1"/>
<circle cx="418.06" cy="217.23" r="1.55" fill="#666666" stroke="#1a1a1a" stroke-width="1.1"/>
<circle cx="426.12" cy="215.37" r="1.55" fill="#666666" stroke="#1a1a1a" stroke-width="1.1"/>
<circle cx="434.18" cy="214.15" r="1.55" fill="#666666" stroke="#1a1a1a" stroke-width="1.1"/>
<circle cx="442.24" cy="214.87" r="1.55" fill="#666666" stroke="#1a1a1a" stroke-width="1.1"/>
<circle cx="450.3" cy="213.43" r="1.55" fill="#666666" stroke="#1a1a1a" stroke-width="1.1"/>
<circle cx="458.36" cy="214.15" r="1.55" fill="#666666" stroke="#1a1a1a" stroke-width="1.1"/>
<circle cx="466.42" cy="214.15" r="1.55" fill="#666666" stroke="#1a1a1a" stroke-width="1.1"/>
<circle cx="474.48" cy="212.93" r="1.55" fill="#666666" stroke="#1a1a1a" stroke-width="1.1"/>
<circle cx="482.54" cy="213.43" r="1.55" fill="#666666" stroke="#1a1a1a" stroke-width="1.1"/>
<circle cx="490.6" cy="214.15" r="1.55" fill="#666666" stroke="#1a1a1a" stroke-width="1.1"/>
<circle cx="498.66" cy="214.15" r="1.55" fill="#666666" stroke="#1a1a1a" stroke-width="1.1"/>
<circle cx="506.72" cy="214.15" r="1.55" fill="#666666" stroke="#1a1a1a" stroke-width="1.1"/>
<circle cx="514.78" cy="214.15" r="1.55" fill="#666666" stroke="#1a1a1a" stroke-width="1.1"/>
<circle cx="522.84" cy="214.15" r="1.55" fill="#666666" stroke="#1a1a1a" stroke-width="1.1"/>
</g>
<rect x="319.5" y="198.5" width="213" height="83" fill="none" stroke="#555555" stroke-width="1.25"/>
<line x1="316.6" y1="210.71" x2="319.6" y2="210.71" stroke="#555555" stroke-width="1"/>
<text transform="translate(314.4,215.31) scale(0.88,1)" text-anchor="end" font-size="10.4" fill="#383838" stroke="#383838" stroke-width="0.42">600</text>
<line x1="316.6" y1="225.04" x2="319.6" y2="225.04" stroke="#555555" stroke-width="1"/>
<text transform="translate(314.4,229.64) scale(0.88,1)" text-anchor="end" font-size="10.4" fill="#383838" stroke="#383838" stroke-width="0.42">400</text>
<line x1="316.6" y1="239.37" x2="319.6" y2="239.37" stroke="#555555" stroke-width="1"/>
<text transform="translate(314.4,243.97) scale(0.88,1)" text-anchor="end" font-size="10.4" fill="#383838" stroke="#383838" stroke-width="0.42">200</text>
<line x1="316.6" y1="253.7" x2="319.6" y2="253.7" stroke="#555555" stroke-width="1"/>
<text transform="translate(314.4,258.3) scale(0.88,1)" text-anchor="end" font-size="10.4" fill="#383838" stroke="#383838" stroke-width="0.42">0</text>
<line x1="316.6" y1="268.03" x2="319.6" y2="268.03" stroke="#555555" stroke-width="1"/>
<text transform="translate(314.4,272.63) scale(0.88,1)" text-anchor="end" font-size="10.4" fill="#383838" stroke="#383838" stroke-width="0.42">-200</text>
<text transform="translate(537.1,240.3) rotate(90)" text-anchor="middle" font-size="10.6" font-weight="bold" fill="#1a1a1a" stroke="#1a1a1a" stroke-width="0.25">R2-2</text>
<line x1="329.4" y1="281.8" x2="329.4" y2="284.8" stroke="#555555" stroke-width="1"/>
<text transform="translate(329.4,296.4) scale(0.88,1)" text-anchor="middle" font-size="10.4" fill="#383838" stroke="#383838" stroke-width="0.42">-10</text>
<line x1="369.7" y1="281.8" x2="369.7" y2="284.8" stroke="#555555" stroke-width="1"/>
<text transform="translate(369.7,296.4) scale(0.88,1)" text-anchor="middle" font-size="10.4" fill="#383838" stroke="#383838" stroke-width="0.42">-5</text>
<line x1="410" y1="281.8" x2="410" y2="284.8" stroke="#555555" stroke-width="1"/>
<text transform="translate(410,296.4) scale(0.88,1)" text-anchor="middle" font-size="10.4" fill="#383838" stroke="#383838" stroke-width="0.42">0</text>
<line x1="450.3" y1="281.8" x2="450.3" y2="284.8" stroke="#555555" stroke-width="1"/>
<text transform="translate(450.3,296.4) scale(0.88,1)" text-anchor="middle" font-size="10.4" fill="#383838" stroke="#383838" stroke-width="0.42">5</text>
<line x1="490.6" y1="281.8" x2="490.6" y2="284.8" stroke="#555555" stroke-width="1"/>
<text transform="translate(490.6,296.4) scale(0.88,1)" text-anchor="middle" font-size="10.4" fill="#383838" stroke="#383838" stroke-width="0.42">10</text>
<line x1="530.9" y1="281.8" x2="530.9" y2="284.8" stroke="#555555" stroke-width="1"/>
<text transform="translate(530.9,296.4) scale(0.88,1)" text-anchor="middle" font-size="10.4" fill="#383838" stroke="#383838" stroke-width="0.42">15</text>
<text x="142.6" y="309.4" text-anchor="middle" font-size="11.1" font-weight="bold" fill="#111" stroke="#111" stroke-width="0.2">Day after harvesting</text>
<text x="425.2" y="309.4" text-anchor="middle" font-size="11.1" font-weight="bold" fill="#111" stroke="#111" stroke-width="0.2">Day after harvesting</text>
<text transform="translate(14.0,151.3) rotate(-90)" text-anchor="middle" font-size="11.1" font-weight="bold" fill="#111" stroke="#111" stroke-width="0.2">Water potential (kPa)</text>
<text transform="translate(290.5,151.7) rotate(-90)" text-anchor="middle" font-size="11.1" font-weight="bold" fill="#111" stroke="#111" stroke-width="0.2">Redox potential (mV)</text>
<line x1="89.6" y1="328.4" x2="98.6" y2="328.4" stroke="#3a7a30" stroke-width="1.7"/>
<circle cx="94.1" cy="328.4" r="1.6" fill="#3a6e30" stroke="#102410" stroke-width="1"/>
<text x="106" y="333.0" font-size="10.4" fill="#333333" stroke="#333333" stroke-width="0.15">M1.5</text>
<line x1="136.3" y1="328.4" x2="145.3" y2="328.4" stroke="#b09060" stroke-width="1.7"/>
<circle cx="140.8" cy="328.4" r="1.6" fill="#85704a" stroke="#2a2012" stroke-width="1"/>
<text x="152.3" y="333.0" font-size="10.4" fill="#333333" stroke="#333333" stroke-width="0.15">M2</text>
<line x1="174.5" y1="328.4" x2="183.5" y2="328.4" stroke="#555555" stroke-width="1.7"/>
<circle cx="179" cy="328.4" r="1.6" fill="#666666" stroke="#1a1a1a" stroke-width="1"/>
<text x="189.8" y="333.0" font-size="10.4" fill="#333333" stroke="#333333" stroke-width="0.15">M3</text>
<line x1="353.7" y1="328.4" x2="362.7" y2="328.4" stroke="#5060b0" stroke-width="1.7"/>
<circle cx="358.2" cy="328.4" r="1.6" fill="#3a4aa0" stroke="#121a50" stroke-width="1"/>
<text x="370" y="333.0" font-size="10.4" fill="#333333" stroke="#333333" stroke-width="0.15">M1</text>
<line x1="391.5" y1="328.4" x2="400.5" y2="328.4" stroke="#3a7a30" stroke-width="1.7"/>
<circle cx="396" cy="328.4" r="1.6" fill="#3a6e30" stroke="#102410" stroke-width="1"/>
<text x="407.2" y="333.0" font-size="10.4" fill="#333333" stroke="#333333" stroke-width="0.15">M1.5</text>
<line x1="438.5" y1="328.4" x2="447.5" y2="328.4" stroke="#b09060" stroke-width="1.7"/>
<circle cx="443" cy="328.4" r="1.6" fill="#85704a" stroke="#2a2012" stroke-width="1"/>
<text x="453.6" y="333.0" font-size="10.4" fill="#333333" stroke="#333333" stroke-width="0.15">M2</text>
<line x1="474.5" y1="328.4" x2="483.5" y2="328.4" stroke="#555555" stroke-width="1.7"/>
<circle cx="479" cy="328.4" r="1.6" fill="#666666" stroke="#1a1a1a" stroke-width="1"/>
<text x="490.6" y="333.0" font-size="10.4" fill="#333333" stroke="#333333" stroke-width="0.15">M3</text>
</svg></body></html>
